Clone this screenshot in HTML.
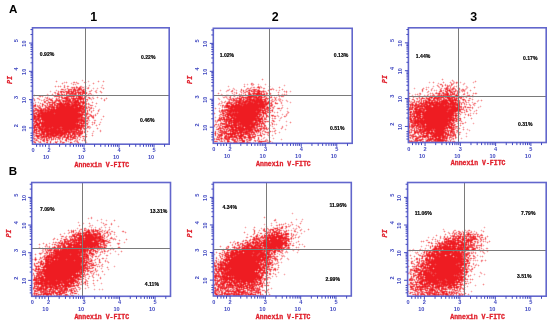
<!DOCTYPE html><html><head><meta charset="utf-8"><style>html,body{margin:0;padding:0;background:#fff;overflow:hidden}svg{display:block}</style></head><body><svg width="550" height="324" viewBox="0 0 550 324"><defs><filter id="bl" x="-5%" y="-5%" width="110%" height="110%"><feConvolveMatrix order="3" kernelMatrix="0 1 0 1 4 1 0 1 0" preserveAlpha="false"/></filter></defs><text x="9" y="13" font-family="Liberation Sans, sans-serif" font-weight="bold" font-size="11.6" fill="#000">A</text>
<text x="8.8" y="174.5" font-family="Liberation Sans, sans-serif" font-weight="bold" font-size="11.6" fill="#000">B</text>
<text x="93.6" y="21" text-anchor="middle" font-family="Liberation Sans, sans-serif" font-weight="bold" font-size="12.4" fill="#000">1</text>
<text x="275.2" y="21" text-anchor="middle" font-family="Liberation Sans, sans-serif" font-weight="bold" font-size="12.4" fill="#000">2</text>
<text x="473.8" y="21" text-anchor="middle" font-family="Liberation Sans, sans-serif" font-weight="bold" font-size="12.4" fill="#000">3</text>
<g stroke-width="1" fill="none" filter="url(#bl)"><path d="M82 80.5h1m5 1h1m-25 1h1m8 0h1m10 0h1m-14 1h1m5 0h2m-4 1h1m-12 1h1m24 0h1m12 0h1m-39 1h1m3 0h1m7 0h1m3 0h2m-11 1h3m8 0h2m1 0h1m2 0h1m12 0h1m-30 1h1m3 0h1m3 0h2m5 0h2m4 0h1m3 0h1m-35 1h1m5 0h1m7 0h1m6 0h1m-29 1h1m7 0h1m4 0h1m1 0h1m2 0h1m1 0h1m1 0h2m1 0h1m14 0h1m-47 1h1m12 0h1m3 0h1m1 0h1m2 0h1m1 0h1m2 0h2m1 0h1m8 0h2m-37 1h2m2 0h1m1 0h1m5 0h1m2 0h1m6 0h1m5 0h1m-28 1h1m2 0h1m2 0h1m5 0h1m1 0h1m3 0h1m2 0h1m12 0h1m-43 1h1m9 0h1m11 0h6m1 0h1m4 0h1m9 0h1m-44 1h1m8 0h1m2 0h1m9 0h1m1 0h2m1 0h1m6 0h1m1 0h1m1 0h1m6 0h1m-55 1h1m15 0h1m1 0h2m7 0h3m8 0h1m3 0h2m1 0h1m1 0h1m-42 1h1m22 0h1m2 0h1m10 0h1m1 0h1m4 0h1m2 0h1m-56 1h2m7 0h2m4 0h1m15 0h2m20 0h1m-57 1h1m13 0h2m7 0h1m7 0h1m2 0h1m3 0h1m5 0h1m3 0h1m3 0h1m4 0h1m12 0h1m-64 1h1m1 0h1m6 0h1m5 0h1m3 0h1m3 0h2m8 0h1m12 0h1m-43 1h1m2 0h1m5 0h3m2 0h1m2 0h1m4 0h1m3 0h3m8 0h1m1 0h1m-50 1h1m2 0h1m6 0h1m5 0h2m6 0h1m6 0h1m2 0h1m2 0h1m7 0h1m4 0h1m-44 1h1m3 0h1m2 0h1m3 0h1m9 0h1m9 0h1m3 0h1m-31 1h1m1 0h1m21 0h1m8 0h1m1 0h1m5 0h2m-53 1h1m6 0h1m4 0h3m3 0h1m2 0h1m6 0h1m4 0h1m20 0h2m-60 1h2m2 0h2m1 0h1m4 0h2m4 0h1m2 0h1m3 0h1m27 0h1m1 0h1m6 0h1m-58 1h1m1 0h1m4 0h1m2 0h3m4 0h1m18 0h1m7 0h1m2 0h1m2 0h1m-55 1h1m5 0h1m2 0h2m7 0h1m31 0h1m2 0h1m3 0h1m1 0h1m-59 1h2m1 0h1m3 0h1m1 0h1m1 0h2m33 0h1m2 0h1m14 0h1m-66 1h1m1 0h1m7 0h1m4 0h1m32 0h2m-47 1h1m1 0h1m3 0h2m1 0h1m35 0h1m15 0h1m-64 1h1m1 0h3m38 0h2m7 0h1m3 0h1m-38 1h1m26 0h1m1 0h1m1 0h1m1 0h2m-55 1h1m5 0h1m48 0h2m4 0h1m-11 1h2m6 0h1m-12 1h1m5 0h1m3 0h2m-58 1h2m2 0h1m39 0h1m3 0h2m2 0h1m-53 1h1m41 0h3m1 0h2m1 0h3m5 0h1m-59 1h1m3 0h1m43 0h3m2 0h1m12 0h1m-65 1h1m48 0h1m2 0h1m4 0h2m-58 1h2m3 0h1m35 0h2m5 0h2m-54 1h1m44 0h1m4 0h1m3 0h1m11 0h1m-25 1h1m8 0h1m8 0h1m-13 1h2m1 0h1m0 1h1m-54 1h1m4 0h1m41 0h1m2 0h1m3 0h3m-53 1h1m3 0h1m2 0h1m7 0h1m7 0h2m20 0h2m4 0h1m1 0h1m-48 1h1m5 0h1m25 0h1m13 0h1m-33 1h1m3 0h1m16 0h1m-46 1h1m5 0h1m3 0h1m25 0h1m2 0h4m3 0h1m2 0h1m17 0h1m-68 1h1m3 0h1m25 0h1m6 0h1m9 0h1m12 0h1m6 0h1m-66 1h1m3 0h1m5 0h1m3 0h1m22 0h1m2 0h1m3 0h1m1 0h1m3 0h1m-53 1h1m1 0h1m3 0h3m28 0h1m4 0h2m1 0h1m13 0h1m-60 1h2m1 0h1m2 0h1m5 0h1m8 0h1m4 0h1m5 0h1m1 0h1m1 0h1m5 0h2m1 0h1m1 0h2m4 0h1m-54 1h1m5 0h1m4 0h2m3 0h1m8 0h1m21 0h1m-32 1h1m1 0h1m4 0h1m1 0h2m5 0h1m3 0h1m5 0h1m2 0h1m5 0h1m-52 1h1m4 0h1m2 0h1m2 0h2m7 0h2m4 0h2m1 0h2m1 0h1m8 0h2m-42 1h2m1 0h1m1 0h1m1 0h2m4 0h3m9 0h2m7 0h1m1 0h1m1 0h1m4 0h1m-37 1h1m5 0h1m1 0h1m2 0h1m4 0h1m7 0h1m3 0h2m5 0h1m7 0h1m-50 1h1m1 0h1m6 0h1m3 0h1m2 0h1m8 0h1m9 0h1m6 0h1m6 0h1m-51 1h1m5 0h1m2 0h1m3 0h1m7 0h1m4 0h2m4 0h1m1 0h1m7 0h2m-39 1h1m22 0h1m1 0h1m12 0h2m7 0h1m-52 1h1m5 0h1m2 0h1m2 0h1m15 0h1m8 0h1m2 0h1m4 0h1" stroke="#f2555b"/><path d="M56 81.5h1m41 0h1m4 0h1m-38 1h1m7 0h1m1 0h1m8 0h1m-24 1h1m30 0h1m-21 1h1m-19 2h1m2 0h1m1 0h1m6 0h1m17 0h1m-22 1h1m9 0h1m1 0h2m1 0h2m-14 1h1m6 0h1m3 0h2m5 0h1m17 0h1m-43 1h2m2 0h1m2 0h1m1 0h2m1 0h3m2 0h4m1 0h1m-16 1h1m4 0h1m1 0h1m1 0h1m4 0h2m1 0h1m5 0h1m-34 1h1m1 0h3m2 0h2m1 0h1m1 0h2m1 0h1m1 0h1m6 0h3m10 0h1m4 0h1m-40 1h1m1 0h2m2 0h2m2 0h3m1 0h1m1 0h5m1 0h2m1 0h1m9 0h1m4 0h1m-45 1h1m8 0h1m1 0h1m1 0h3m1 0h2m2 0h3m1 0h5m3 0h1m-39 1h1m5 0h2m1 0h2m1 0h1m1 0h1m8 0h1m2 0h1m1 0h1m1 0h1m5 0h1m-55 1h1m20 0h1m2 0h1m3 0h3m1 0h4m4 0h1m3 0h3m-41 1h1m1 0h1m11 0h1m1 0h1m2 0h1m1 0h1m7 0h6m1 0h1m1 0h3m-34 1h1m11 0h1m1 0h2m1 0h4m5 0h1m2 0h1m1 0h4m3 0h1m2 0h1m8 0h1m-65 1h1m15 0h1m6 0h1m1 0h1m3 0h6m3 0h14m4 0h1m3 0h1m7 0h1m4 0h1m-68 1h1m4 0h1m5 0h2m4 0h1m2 0h1m1 0h1m4 0h2m1 0h2m2 0h3m1 0h1m1 0h3m1 0h1m1 0h1m1 0h1m-54 1h1m11 0h2m3 0h2m2 0h1m1 0h3m2 0h2m2 0h5m1 0h2m1 0h4m1 0h1m2 0h1m20 0h1m-61 1h1m7 0h1m5 0h1m1 0h1m2 0h4m1 0h3m3 0h5m1 0h2m1 0h1m2 0h1m-43 1h1m3 0h3m2 0h3m4 0h2m1 0h1m1 0h1m1 0h2m1 0h2m1 0h7m1 0h4m7 0h1m-60 1h1m6 0h1m6 0h1m4 0h1m1 0h1m1 0h7m1 0h6m1 0h2m1 0h3m1 0h3m1 0h3m1 0h1m1 0h1m7 0h1m-62 1h1m6 0h2m6 0h3m1 0h2m1 0h14m1 0h8m3 0h1m2 0h1m-54 1h3m3 0h1m2 0h1m2 0h1m1 0h1m4 0h1m1 0h1m1 0h2m1 0h6m1 0h4m1 0h12m1 0h2m4 0h1m-56 1h1m6 0h1m5 0h3m1 0h2m2 0h2m1 0h19m1 0h6m-52 1h1m5 0h1m6 0h2m3 0h4m1 0h18m1 0h7m1 0h2m1 0h1m2 0h1m1 0h1m-57 1h2m2 0h1m1 0h1m3 0h1m1 0h3m1 0h1m1 0h2m1 0h28m2 0h1m3 0h1m-58 1h1m3 0h1m2 0h2m1 0h1m1 0h1m2 0h33m1 0h2m1 0h1m3 0h1m-57 1h1m1 0h1m1 0h7m1 0h4m1 0h32m2 0h2m1 0h1m1 0h1m3 0h1m4 0h1m-66 1h2m3 0h1m1 0h3m2 0h1m1 0h35m1 0h2m2 0h1m3 0h1m-59 1h1m2 0h1m3 0h38m3 0h5m-53 1h4m1 0h16m1 0h26m1 0h1m3 0h1m10 0h1m-65 1h1m2 0h4m1 0h44m1 0h2m-55 1h3m1 0h46m1 0h1m5 0h2m3 0h1m-63 1h49m4 0h1m2 0h1m1 0h1m11 0h1m-71 1h3m2 0h2m1 0h39m1 0h3m3 0h1m4 0h2m-61 1h3m1 0h3m1 0h37m3 0h1m2 0h1m3 0h1m-56 1h2m1 0h3m1 0h43m-50 1h1m1 0h2m1 0h3m1 0h43m2 0h1m-55 1h4m3 0h1m1 0h1m1 0h35m2 0h5m-51 1h3m1 0h40m1 0h2m1 0h1m1 0h1m6 0h1m1 0h1m-62 1h2m1 0h40m1 0h1m1 0h6m1 0h2m-55 1h1m1 0h5m1 0h39m1 0h1m5 0h1m4 0h1m6 0h1m-67 1h7m1 0h44m11 0h1m-63 1h2m1 0h1m1 0h41m1 0h2m1 0h1m-52 1h4m1 0h3m1 0h2m1 0h7m1 0h7m2 0h20m5 0h1m-55 1h2m1 0h1m1 0h5m1 0h5m1 0h25m1 0h6m1 0h2m1 0h1m10 0h1m-64 1h4m1 0h18m1 0h3m1 0h16m2 0h2m2 0h1m-51 1h3m1 0h1m1 0h3m1 0h25m1 0h2m4 0h3m1 0h1m4 0h1m-52 1h1m1 0h1m1 0h2m1 0h22m1 0h6m1 0h6m1 0h2m1 0h2m1 0h1m2 0h1m-55 1h2m1 0h1m4 0h4m1 0h3m1 0h22m1 0h2m1 0h3m1 0h1m1 0h1m1 0h1m-49 1h3m3 0h3m1 0h21m1 0h2m2 0h3m2 0h1m1 0h4m-43 1h5m1 0h8m1 0h4m1 0h5m1 0h1m1 0h1m1 0h1m1 0h3m2 0h1m1 0h1m-45 1h4m1 0h2m1 0h1m2 0h3m1 0h8m1 0h4m1 0h2m1 0h2m1 0h3m1 0h2m2 0h2m12 0h1m-59 1h1m1 0h4m1 0h8m1 0h1m1 0h4m4 0h2m1 0h2m2 0h2m1 0h2m1 0h2m1 0h1m2 0h1m2 0h2m1 0h2m-50 1h1m2 0h1m1 0h2m2 0h1m1 0h4m4 0h3m5 0h1m1 0h3m1 0h4m3 0h1m2 0h1m4 0h1m-53 1h1m4 0h1m5 0h1m1 0h1m4 0h1m1 0h1m1 0h1m2 0h1m3 0h1m3 0h2m5 0h3m7 0h1m-50 1h1m1 0h1m3 0h1m2 0h2m1 0h1m4 0h1m1 0h1m1 0h1m3 0h1m2 0h1m3 0h1m1 0h1m2 0h2m6 0h1m-44 1h1m5 0h2m2 0h2m17 0h2m8 0h1m6 0h1m2 0h1m-53 1h1m4 0h1m5 0h1m5 0h1m6 0h1m16 0h1m10 0h1m-52 1h2m4 0h1m5 0h2m2 0h1m4 0h2m3 0h1m2 0h1m6 0h2m-22 1h1m2 0h1m2 0h1m5 0h1m7 0h1m7 0h1" stroke="#ee1c24"/></g>
<path d="M85.5 27.8V144.2M32.5 95.5H169.2" stroke="#7a7a7a" stroke-width="1" fill="none"/>
<rect x="32.5" y="27.8" width="136.7" height="116.4" fill="none" stroke="#6266cc" stroke-width="1.6"/>
<path d="M49.04 144.2v3.5M32.5 127.9h-3.5M59.58 144.2v2.6M32.5 119.39h-2M65.74 144.2v2.6M32.5 114.41h-2M70.11 144.2v2.6M32.5 110.87h-2M73.5 144.2v2.6M32.5 108.13h-2M76.27 144.2v2.6M32.5 105.89h-2M78.62 144.2v2.6M32.5 104h-2M80.64 144.2v2.6M32.5 102.36h-2M82.43 144.2v2.6M32.5 100.91h-2M84.04 144.2v3.5M32.5 99.62h-3.5M94.57 144.2v2.6M32.5 91.1h-2M100.73 144.2v2.6M32.5 86.12h-2M105.11 144.2v2.6M32.5 82.59h-2M108.5 144.2v2.6M32.5 79.85h-2M111.27 144.2v2.6M32.5 77.61h-2M113.61 144.2v2.6M32.5 75.72h-2M115.64 144.2v2.6M32.5 74.07h-2M117.43 144.2v2.6M32.5 72.63h-2M119.03 144.2v3.5M32.5 71.33h-3.5M129.57 144.2v2.6M32.5 62.82h-2M135.73 144.2v2.6M32.5 57.84h-2M140.1 144.2v2.6M32.5 54.3h-2M143.49 144.2v2.6M32.5 51.56h-2M146.26 144.2v2.6M32.5 49.32h-2M148.61 144.2v2.6M32.5 47.43h-2M150.63 144.2v2.6M32.5 45.79h-2M152.43 144.2v2.6M32.5 44.34h-2M154.03 144.2v3.5M32.5 43.05h-3.5M164.56 144.2v2.6M32.5 34.53h-2M32.5 29.55h-2M36.6 144.2v2.6M32.5 140.71h-2M40.02 144.2v2.6M32.5 137.8h-2M42.75 144.2v2.6M32.5 135.47h-2M45.49 144.2v2.6M32.5 133.14h-2" stroke="#4048c0" stroke-width="1" fill="none"/>
<g fill="#4048c0" font-family="Liberation Sans, sans-serif" font-weight="bold" font-size="5.6"><text x="33" y="152.2" text-anchor="middle">0</text><text x="49.04" y="152.2" text-anchor="middle">2</text><text x="46.04" y="159.2" text-anchor="middle">10</text><text x="84.04" y="152.2" text-anchor="middle">3</text><text x="81.04" y="159.2" text-anchor="middle">10</text><text x="119.03" y="152.2" text-anchor="middle">4</text><text x="116.03" y="159.2" text-anchor="middle">10</text><text x="154.03" y="152.2" text-anchor="middle">5</text><text x="151.03" y="159.2" text-anchor="middle">10</text><text transform="translate(26.3,128.4) rotate(-90)" text-anchor="middle">10</text><text transform="translate(18.4,125.6) rotate(-90)" text-anchor="middle">2</text><text transform="translate(26.3,100.12) rotate(-90)" text-anchor="middle">10</text><text transform="translate(18.4,97.32) rotate(-90)" text-anchor="middle">3</text><text transform="translate(26.3,71.83) rotate(-90)" text-anchor="middle">10</text><text transform="translate(18.4,69.03) rotate(-90)" text-anchor="middle">4</text><text transform="translate(26.3,43.55) rotate(-90)" text-anchor="middle">10</text><text transform="translate(18.4,40.75) rotate(-90)" text-anchor="middle">5</text></g>
<text x="74.6" y="166.8" fill="#e0202c" stroke="#e0202c" stroke-width="0.3" font-family="Liberation Mono, monospace" font-weight="bold" font-size="6.5">Annexin V-FITC</text>
<text transform="translate(11.5,79.95) rotate(-90)" text-anchor="middle" fill="#e0202c" stroke="#e0202c" stroke-width="0.2" font-family="Liberation Mono, monospace" font-weight="bold" font-style="italic" font-size="6.8">PI</text>
<g fill="#000" stroke="#000" stroke-width="0.15" font-family="Liberation Sans, sans-serif" font-weight="bold" font-size="5.1"><text x="39.8" y="55.8">0.92%</text><text x="141" y="58.5">0.22%</text><text x="140" y="122.2">0.46%</text></g>
<g stroke-width="1" fill="none" filter="url(#bl)"><path d="M251 83.5h2m-9 1h1m2 0h1m10 0h1m6 0h1m-14 1h1m31 0h1m-57 1h1m31 0h1m-10 1h1m1 0h2m-22 1h1m14 0h1m14 0h2m7 0h1m-44 1h1m4 0h1m14 0h1m2 0h2m1 0h1m2 0h1m-39 1h1m6 0h2m7 0h1m8 0h1m4 0h1m2 0h1m1 0h1m7 0h1m12 0h1m2 0h1m-54 1h1m5 0h1m7 0h1m8 0h1m3 0h3m1 0h1m3 0h1m1 0h3m24 0h1m-57 1h1m1 0h1m7 0h1m8 0h1m12 0h1m19 0h1m-55 1h1m10 0h1m4 0h1m1 0h1m15 0h1m-46 1h1m12 0h1m6 0h1m6 0h1m2 0h1m2 0h2m4 0h1m1 0h1m3 0h1m3 0h1m7 0h1m3 0h1m3 0h1m-59 1h1m11 0h2m4 0h1m11 0h1m1 0h1m17 0h1m2 0h1m-57 1h1m21 0h1m17 0h1m3 0h1m1 0h1m9 0h3m-61 1h2m4 0h2m8 0h1m12 0h2m6 0h1m2 0h2m11 0h1m-59 1h1m8 0h1m4 0h1m3 0h2m8 0h1m1 0h1m2 0h1m2 0h2m3 0h1m7 0h3m9 0h1m-61 1h1m8 0h3m15 0h1m8 0h1m6 0h1m15 0h1m-50 1h1m1 0h3m2 0h1m1 0h1m2 0h1m6 0h1m17 0h1m7 0h1m1 0h1m5 0h1m3 0h1m-66 1h1m6 0h2m5 0h1m1 0h1m3 0h2m8 0h1m14 0h1m6 0h1m6 0h1m6 0h1m-66 1h1m5 0h1m1 0h2m2 0h2m5 0h1m5 0h1m5 0h1m10 0h1m1 0h1m2 0h1m11 0h1m8 0h1m-70 1h1m8 0h1m2 0h1m1 0h1m7 0h1m2 0h1m11 0h1m5 0h1m5 0h1m10 0h1m-64 1h1m7 0h1m3 0h1m9 0h1m30 0h2m-53 1h1m21 0h1m22 0h1m4 0h1m1 0h1m9 0h1m-61 1h1m1 0h2m44 0h2m-50 1h1m2 0h1m3 0h1m42 0h2m8 0h1m-64 1h1m13 0h1m25 0h1m1 0h1m3 0h2m1 0h1m4 0h1m3 0h1m9 0h1m-64 1h2m2 0h2m31 0h2m2 0h1m1 0h2m3 0h1m-54 1h1m4 0h1m42 0h1m1 0h3m8 0h1m-59 1h2m1 0h1m30 0h1m10 0h1m19 0h1m-65 1h1m3 0h2m3 0h1m1 0h1m2 0h1m22 0h1m8 0h1m4 0h1m-49 1h1m4 0h1m27 0h2m1 0h1m24 0h1m-23 1h2m2 0h1m12 0h1m3 0h1m-64 1h1m36 0h1m16 0h1m8 0h1m-67 1h1m2 0h1m9 0h1m26 0h1m6 0h3m2 0h1m5 0h1m6 0h1m-71 1h1m6 0h1m3 0h1m8 0h1m20 0h1m2 0h1m2 0h1m1 0h1m16 0h1m-55 1h1m1 0h1m34 0h1m9 0h2m4 0h1m-62 1h2m36 0h1m7 0h2m-52 1h1m1 0h1m4 0h1m2 0h1m2 0h1m33 0h2m9 0h1m5 0h1m-65 1h1m4 0h1m2 0h1m1 0h1m1 0h1m4 0h1m20 0h1m3 0h1m8 0h1m7 0h1m11 0h1m-71 1h1m4 0h1m8 0h1m8 0h1m13 0h1m9 0h1m1 0h1m5 0h1m-47 1h1m11 0h1m18 0h1m1 0h3m3 0h1m-45 1h1m2 0h1m1 0h1m2 0h1m3 0h1m4 0h1m25 0h2m4 0h1m4 0h1m1 0h1m-59 1h1m2 0h1m3 0h1m13 0h1m1 0h1m8 0h1m4 0h1m14 0h1m15 0h1m-73 1h1m2 0h1m15 0h1m7 0h1m14 0h2m3 0h1m2 0h2m6 0h1m9 0h1m-67 1h1m2 0h1m8 0h1m26 0h3m3 0h1m2 0h1m17 0h1m-63 1h1m1 0h1m4 0h3m22 0h2m1 0h3m3 0h2m1 0h1m3 0h2m3 0h2m-59 1h1m6 0h1m13 0h1m15 0h2m11 0h1m18 0h1m-67 1h1m2 0h1m1 0h1m6 0h1m13 0h1m1 0h1m11 0h1m-40 1h2m1 0h1m2 0h2m6 0h1m8 0h2m6 0h1m1 0h1m3 0h1m1 0h1m4 0h2m6 0h1m-52 1h2m1 0h1m11 0h1m11 0h3m7 0h1m6 0h2m12 0h1m-66 1h1m7 0h2m15 0h1m4 0h1m8 0h1m3 0h1m2 0h1m7 0h1m-50 1h1m2 0h1m3 0h1m10 0h1m6 0h1m2 0h2m2 0h2m1 0h1m8 0h1m3 0h1m-49 1h1m15 0h1m2 0h1m8 0h1m2 0h1m4 0h1m2 0h2m12 0h1m-53 1h2m2 0h1m2 0h2m14 0h1m8 0h1m-35 1h1m2 0h1m4 0h2m4 0h2m3 0h1m5 0h1m2 0h2m6 0h1m9 0h1m4 0h1m-56 1h1m1 0h1m1 0h1m8 0h1m4 0h2m3 0h2m6 0h1m2 0h1m1 0h2m11 0h1m9 0h1m-51 1h1m1 0h1m2 0h1m4 0h2m4 0h1m6 0h1m2 0h2m10 0h1m4 0h1m14 0h1m-63 1h1m1 0h1m10 0h1m2 0h1m3 0h1m1 0h1m4 0h1m1 0h1m6 0h1m3 0h1m-43 1h1m2 0h2m2 0h1m10 0h1m2 0h1m19 0h1m6 0h2m-42 1h1m2 0h1m1 0h2m18 0h1m2 0h1m5 0h2m8 0h1m2 0h1" stroke="#f2555b"/><path d="M262 79.5h1m-12 5h1m1 0h1m-10 2h1m13 0h1m10 0h1m-13 1h3m1 0h1m17 0h1m-33 1h1m2 0h1m8 0h1m-19 1h1m4 0h1m7 0h1m1 0h1m13 0h2m1 0h1m8 0h1m-51 1h1m8 0h1m1 0h1m4 0h2m1 0h1m2 0h1m2 0h3m8 0h1m-38 1h1m11 0h1m2 0h2m3 0h2m3 0h1m1 0h3m1 0h1m21 0h1m1 0h1m-46 1h1m3 0h1m2 0h2m4 0h1m2 0h3m1 0h1m1 0h1m14 0h1m-61 1h1m17 0h1m12 0h1m2 0h10m2 0h1m2 0h1m2 0h1m-32 1h1m5 0h1m3 0h2m2 0h1m2 0h4m1 0h1m1 0h2m19 0h1m-63 1h1m3 0h2m5 0h1m9 0h1m1 0h1m2 0h6m2 0h2m1 0h1m1 0h7m-38 1h1m3 0h1m4 0h2m1 0h1m5 0h9m1 0h4m2 0h1m14 0h1m-54 1h1m10 0h1m3 0h11m2 0h6m1 0h2m3 0h1m3 0h2m2 0h1m-45 1h1m2 0h1m1 0h1m2 0h4m1 0h1m1 0h1m1 0h1m1 0h2m2 0h1m2 0h3m1 0h2m3 0h2m8 0h1m-45 1h1m1 0h2m1 0h1m2 0h3m1 0h2m2 0h8m1 0h6m1 0h3m1 0h1m4 0h1m2 0h1m4 0h1m-47 1h2m1 0h1m1 0h2m1 0h2m1 0h3m1 0h14m1 0h2m3 0h1m1 0h1m7 0h1m-55 1h1m7 0h1m2 0h1m1 0h3m2 0h8m1 0h14m2 0h2m2 0h1m-49 1h1m2 0h1m1 0h1m2 0h1m3 0h5m1 0h5m1 0h5m1 0h10m1 0h1m1 0h2m2 0h1m3 0h1m-57 1h1m6 0h4m1 0h1m2 0h1m1 0h1m1 0h5m1 0h2m1 0h11m1 0h5m1 0h5m1 0h1m3 0h3m-51 1h1m3 0h3m1 0h5m1 0h27m1 0h1m-48 1h2m1 0h5m1 0h11m1 0h22m1 0h1m2 0h1m1 0h1m-46 1h40m1 0h1m6 0h1m-51 1h1m1 0h3m1 0h35m1 0h4m-55 1h1m12 0h5m1 0h25m1 0h1m1 0h3m2 0h1m1 0h2m7 0h2m1 0h1m-60 1h1m3 0h2m2 0h31m3 0h1m1 0h1m-46 1h3m1 0h41m2 0h1m3 0h1m-54 1h1m1 0h1m2 0h1m2 0h29m1 0h4m1 0h2m1 0h2m2 0h1m2 0h1m-53 1h1m1 0h1m2 0h2m2 0h3m1 0h1m1 0h2m1 0h22m1 0h5m1 0h2m1 0h1m6 0h1m10 0h1m-75 1h1m7 0h3m2 0h4m1 0h27m4 0h4m-47 1h2m1 0h1m1 0h37m1 0h1m-45 1h1m2 0h1m1 0h2m1 0h31m1 0h1m1 0h1m1 0h1m2 0h2m3 0h3m-49 1h4m1 0h3m1 0h26m2 0h2m2 0h1m7 0h2m8 0h1m-66 1h1m1 0h1m1 0h2m2 0h3m1 0h4m1 0h20m1 0h2m2 0h1m4 0h1m2 0h1m-51 1h3m1 0h2m1 0h1m1 0h1m1 0h33m2 0h1m6 0h1m-55 1h1m2 0h11m1 0h24m1 0h5m1 0h1m-47 1h3m3 0h1m1 0h2m1 0h32m11 0h1m-56 1h1m6 0h1m1 0h1m1 0h4m1 0h20m2 0h2m1 0h5m1 0h2m1 0h2m4 0h1m-49 1h2m1 0h2m1 0h8m1 0h13m1 0h4m1 0h2m1 0h1m27 0h1m-71 1h5m1 0h1m1 0h4m1 0h4m1 0h18m1 0h1m3 0h3m8 0h1m-58 1h2m1 0h1m3 0h1m1 0h1m1 0h2m1 0h1m1 0h1m1 0h4m1 0h22m1 0h1m10 0h1m-59 1h1m5 0h1m5 0h13m1 0h1m1 0h8m1 0h4m1 0h2m1 0h1m1 0h1m2 0h2m-47 1h1m2 0h11m1 0h3m1 0h3m1 0h13m3 0h3m1 0h1m-43 1h1m1 0h1m1 0h4m2 0h14m1 0h10m8 0h1m2 0h1m-49 1h2m1 0h1m1 0h1m1 0h1m5 0h3m1 0h17m2 0h1m4 0h2m2 0h1m1 0h2m14 0h1m-65 1h2m1 0h1m3 0h1m1 0h2m1 0h8m1 0h15m2 0h1m1 0h2m1 0h2m2 0h1m2 0h1m-48 1h2m4 0h1m1 0h3m1 0h13m1 0h1m1 0h5m1 0h5m1 0h1m2 0h1m11 0h1m-61 1h1m2 0h1m3 0h1m1 0h2m2 0h1m1 0h4m1 0h3m1 0h4m2 0h6m1 0h1m2 0h2m1 0h1m3 0h1m6 0h2m3 0h1m-60 1h1m3 0h2m2 0h1m1 0h2m3 0h1m1 0h4m1 0h11m3 0h4m1 0h1m3 0h1m6 0h2m-54 1h1m1 0h1m3 0h1m2 0h15m1 0h2m1 0h1m1 0h5m1 0h1m2 0h1m7 0h1m12 0h1m-61 1h1m2 0h1m1 0h2m2 0h1m2 0h9m2 0h1m1 0h4m1 0h2m2 0h2m2 0h1m1 0h1m4 0h1m3 0h1m-50 1h1m2 0h1m1 0h3m2 0h2m1 0h1m1 0h3m1 0h1m1 0h2m1 0h5m4 0h2m2 0h1m4 0h1m2 0h2m6 0h1m-52 1h1m1 0h1m5 0h2m2 0h8m1 0h5m1 0h2m2 0h3m2 0h3m5 0h1m-45 1h1m1 0h1m4 0h2m2 0h4m2 0h3m2 0h3m2 0h2m2 0h6m4 0h1m-39 1h3m1 0h3m1 0h2m6 0h1m2 0h4m1 0h1m4 0h1m4 0h1m3 0h1m-45 1h1m1 0h4m1 0h1m4 0h2m1 0h1m1 0h2m2 0h1m1 0h1m3 0h2m4 0h1m3 0h1m6 0h1m-35 1h1m2 0h2m4 0h2m2 0h1m2 0h1m1 0h3m4 0h2m3 0h1m2 0h1m7 0h1m1 0h1m-54 1h3m5 0h1m4 0h3m4 0h1m1 0h1m5 0h3m2 0h1m7 0h1m3 0h6m4 0h2m-44 1h1m5 0h5m1 0h6m1 0h4m8 0h1m2 0h1m5 0h2" stroke="#ee1c24"/></g>
<path d="M269.5 28.3V143.3M213.3 95.5H352.2" stroke="#7a7a7a" stroke-width="1" fill="none"/>
<rect x="213.3" y="28.3" width="138.9" height="115" fill="none" stroke="#6266cc" stroke-width="1.6"/>
<path d="M230.11 143.3v3.5M213.3 127.2h-3.5M240.81 143.3v2.6M213.3 118.79h-2M247.07 143.3v2.6M213.3 113.87h-2M251.52 143.3v2.6M213.3 110.38h-2M254.96 143.3v2.6M213.3 107.67h-2M257.78 143.3v2.6M213.3 105.45h-2M260.16 143.3v2.6M213.3 103.58h-2M262.22 143.3v2.6M213.3 101.96h-2M264.04 143.3v2.6M213.3 100.53h-2M265.67 143.3v3.5M213.3 99.25h-3.5M276.37 143.3v2.6M213.3 90.84h-2M282.63 143.3v2.6M213.3 85.92h-2M287.07 143.3v2.6M213.3 82.43h-2M290.52 143.3v2.6M213.3 79.72h-2M293.34 143.3v2.6M213.3 77.51h-2M295.72 143.3v2.6M213.3 75.64h-2M297.78 143.3v2.6M213.3 74.02h-2M299.6 143.3v2.6M213.3 72.59h-2M301.22 143.3v3.5M213.3 71.31h-3.5M311.93 143.3v2.6M213.3 62.9h-2M318.19 143.3v2.6M213.3 57.98h-2M322.63 143.3v2.6M213.3 54.49h-2M326.08 143.3v2.6M213.3 51.78h-2M328.89 143.3v2.6M213.3 49.56h-2M331.27 143.3v2.6M213.3 47.69h-2M333.34 143.3v2.6M213.3 46.07h-2M335.16 143.3v2.6M213.3 44.64h-2M336.78 143.3v3.5M213.3 43.36h-3.5M347.49 143.3v2.6M213.3 34.95h-2M213.3 30.03h-2M217.47 143.3v2.6M213.3 139.85h-2M220.94 143.3v2.6M213.3 136.98h-2M223.72 143.3v2.6M213.3 134.68h-2M226.5 143.3v2.6M213.3 132.38h-2" stroke="#4048c0" stroke-width="1" fill="none"/>
<g fill="#4048c0" font-family="Liberation Sans, sans-serif" font-weight="bold" font-size="5.6"><text x="213.8" y="151.3" text-anchor="middle">0</text><text x="230.11" y="151.3" text-anchor="middle">2</text><text x="227.11" y="158.3" text-anchor="middle">10</text><text x="265.67" y="151.3" text-anchor="middle">3</text><text x="262.67" y="158.3" text-anchor="middle">10</text><text x="301.22" y="151.3" text-anchor="middle">4</text><text x="298.22" y="158.3" text-anchor="middle">10</text><text x="336.78" y="151.3" text-anchor="middle">5</text><text x="333.78" y="158.3" text-anchor="middle">10</text><text transform="translate(207.1,127.7) rotate(-90)" text-anchor="middle">10</text><text transform="translate(199.2,124.9) rotate(-90)" text-anchor="middle">2</text><text transform="translate(207.1,99.75) rotate(-90)" text-anchor="middle">10</text><text transform="translate(199.2,96.95) rotate(-90)" text-anchor="middle">3</text><text transform="translate(207.1,71.81) rotate(-90)" text-anchor="middle">10</text><text transform="translate(199.2,69.01) rotate(-90)" text-anchor="middle">4</text><text transform="translate(207.1,43.86) rotate(-90)" text-anchor="middle">10</text><text transform="translate(199.2,41.06) rotate(-90)" text-anchor="middle">5</text></g>
<text x="256.08" y="165.9" fill="#e0202c" stroke="#e0202c" stroke-width="0.3" font-family="Liberation Mono, monospace" font-weight="bold" font-size="6.5">Annexin V-FITC</text>
<text transform="translate(192.3,79.82) rotate(-90)" text-anchor="middle" fill="#e0202c" stroke="#e0202c" stroke-width="0.2" font-family="Liberation Mono, monospace" font-weight="bold" font-style="italic" font-size="6.8">PI</text>
<g fill="#000" stroke="#000" stroke-width="0.15" font-family="Liberation Sans, sans-serif" font-weight="bold" font-size="5.1"><text x="219.7" y="56.8">1.02%</text><text x="333.8" y="57.2">0.13%</text><text x="330" y="130.3">0.51%</text></g>
<g stroke-width="1" fill="none" filter="url(#bl)"><path d="M453 81.5h1m-25 1h1m24 0h1m2 0h1m2 0h1m12 0h1m-36 1h1m12 0h1m4 0h1m7 0h1m-20 1h1m5 0h1m11 0h1m-6 1h1m-26 1h1m13 0h1m2 0h1m3 0h1m11 0h1m-41 1h1m1 0h1m10 0h1m6 0h1m3 0h1m7 0h1m8 0h1m-54 1h1m17 0h1m11 0h2m1 0h2m1 0h1m2 0h1m5 0h1m6 0h1m-36 1h1m13 0h1m6 0h2m9 0h1m1 0h1m-35 1h1m2 0h1m1 0h1m3 0h1m4 0h1m6 0h1m2 0h2m7 0h1m-43 1h1m16 0h1m7 0h1m2 0h1m3 0h1m4 0h1m4 0h1m-38 1h1m8 0h1m2 0h1m2 0h1m11 0h1m2 0h1m1 0h1m7 0h1m-49 1h2m14 0h1m1 0h1m2 0h1m1 0h1m1 0h3m3 0h1m2 0h1m4 0h1m5 0h1m2 0h1m8 0h1m-62 1h1m4 0h1m7 0h1m9 0h1m2 0h1m1 0h2m6 0h1m12 0h1m-53 1h1m6 0h1m4 0h1m5 0h1m1 0h3m3 0h3m1 0h1m1 0h2m2 0h1m1 0h2m15 0h2m3 0h1m-64 1h1m5 0h1m11 0h2m1 0h1m7 0h1m13 0h1m6 0h1m2 0h1m2 0h2m6 0h1m-38 1h1m3 0h1m9 0h2m4 0h1m3 0h1m2 0h1m2 0h1m-51 1h2m1 0h1m19 0h3m1 0h1m11 0h1m5 0h1m8 0h1m-54 1h1m2 0h2m3 0h1m1 0h1m8 0h1m1 0h2m1 0h1m2 0h1m6 0h1m1 0h1m-45 1h1m14 0h2m5 0h1m2 0h1m3 0h1m2 0h1m27 0h1m8 0h1m-68 1h1m4 0h4m8 0h1m6 0h1m41 0h1m-68 1h1m1 0h1m1 0h1m1 0h1m4 0h1m2 0h1m15 0h1m18 0h2m1 0h1m5 0h1m3 0h1m-62 1h1m4 0h1m7 0h1m2 0h1m6 0h1m21 0h1m18 0h1m-65 1h1m5 0h1m1 0h1m3 0h1m23 0h1m16 0h1m-54 1h1m1 0h1m3 0h1m1 0h1m2 0h1m2 0h1m5 0h1m6 0h1m5 0h1m4 0h1m1 0h1m3 0h1m18 0h1m-60 1h2m14 0h1m28 0h1m3 0h1m15 0h1m-71 1h2m7 0h3m37 0h3m7 0h1m8 0h1m-69 1h2m5 0h1m6 0h1m24 0h2m10 0h1m1 0h1m8 0h1m-52 1h2m25 0h1m12 0h1m1 0h1m5 0h1m-53 1h1m4 0h1m37 0h1m5 0h1m-43 1h1m22 0h1m9 0h1m9 0h1m6 0h1m-61 1h1m39 0h1m7 0h1m-50 1h1m40 0h2m1 0h1m12 0h1m2 0h1m-63 1h1m1 0h1m42 0h1m-46 1h1m10 0h1m35 0h1m-50 1h1m1 0h1m6 0h1m3 0h1m29 0h2m5 0h1m-51 1h1m-1 1h1m38 0h1m3 0h1m5 0h1m-45 1h1m1 0h1m2 0h1m3 0h1m30 0h1m-42 1h1m41 0h1m2 0h1m1 0h1m-51 1h1m1 0h2m41 0h1m1 0h1m-45 1h1m34 0h1m4 0h1m-42 1h1m6 0h1m30 0h1m6 0h1m5 0h1m9 0h1m-65 1h1m2 0h3m5 0h1m28 0h1m5 0h1m-43 1h1m5 0h1m1 0h1m3 0h1m-16 1h2m6 0h1m2 0h1m34 0h1m-45 1h1m2 0h1m5 0h1m3 0h1m19 0h1m7 0h1m2 0h1m6 0h1m-55 1h1m6 0h1m1 0h1m4 0h1m28 0h1m4 0h1m-48 1h1m5 0h1m6 0h1m8 0h1m1 0h1m10 0h1m21 0h1m-57 1h3m8 0h1m10 0h1m10 0h1m2 0h2m1 0h1m1 0h2m2 0h2m11 0h1m-61 1h1m1 0h1m4 0h3m2 0h1m4 0h1m18 0h1m7 0h2m-45 1h1m8 0h2m3 0h1m9 0h1m17 0h3m1 0h1m2 0h2m-52 1h1m7 0h2m25 0h1m2 0h1m5 0h1m12 0h1m-57 1h1m1 0h1m1 0h1m7 0h1m5 0h1m3 0h1m16 0h3m2 0h1m-45 1h1m1 0h2m1 0h1m3 0h2m1 0h1m5 0h1m2 0h1m12 0h1m5 0h1m1 0h1m1 0h1m-44 1h2m5 0h2m8 0h2m11 0h1m4 0h1m6 0h1m12 0h1m-58 1h1m2 0h2m2 0h1m1 0h1m3 0h2m9 0h1m7 0h1m3 0h1m1 0h1m2 0h1m4 0h2m-47 1h1m15 0h1m2 0h1m14 0h1m2 0h1m1 0h1m2 0h1m2 0h1m5 0h1m-45 1h1m2 0h1m2 0h1m1 0h1m7 0h1m9 0h1m5 0h1m3 0h1m-43 1h1m2 0h1m1 0h1m11 0h1m2 0h1m1 0h1m2 0h1m9 0h2m-35 1h3m9 0h1m2 0h1m4 0h2m17 0h2" stroke="#f2555b"/><path d="M442 79.5h1m9 1h1m22 1h1m-43 1h1m9 0h1m6 0h1m5 0h1m-4 1h1m-14 1h2m10 0h1m-16 1h1m4 0h1m2 0h1m1 0h1m1 0h1m1 0h1m-14 1h1m3 0h1m5 0h1m7 0h1m-10 1h1m5 0h1m20 0h1m-52 1h1m17 0h1m4 0h1m5 0h1m1 0h1m3 0h1m-37 1h1m3 0h1m13 0h1m5 0h2m1 0h1m1 0h1m3 0h1m3 0h1m2 0h1m-41 1h1m18 0h1m1 0h1m3 0h4m7 0h1m2 0h1m1 0h1m6 0h1m-43 1h1m11 0h2m3 0h2m2 0h1m1 0h1m1 0h1m1 0h1m1 0h1m4 0h1m-20 1h1m2 0h2m2 0h3m-44 1h1m20 0h1m1 0h1m3 0h1m1 0h2m3 0h1m3 0h2m3 0h1m1 0h1m2 0h1m15 0h1m1 0h1m-59 1h1m15 0h1m5 0h1m5 0h4m1 0h1m1 0h3m1 0h1m1 0h1m4 0h1m-37 1h1m9 0h1m3 0h1m1 0h1m2 0h2m1 0h1m5 0h4m10 0h1m-52 1h1m6 0h1m5 0h2m1 0h3m2 0h7m1 0h3m1 0h1m1 0h6m2 0h1m10 0h1m-60 1h1m5 0h1m2 0h1m3 0h1m2 0h4m1 0h2m1 0h3m1 0h3m1 0h5m2 0h3m3 0h2m1 0h1m-53 1h1m11 0h4m1 0h4m1 0h1m1 0h6m5 0h1m2 0h6m1 0h1m1 0h2m2 0h1m8 0h1m-58 1h2m14 0h3m2 0h2m2 0h1m2 0h1m2 0h1m1 0h2m1 0h3m1 0h1m1 0h3m5 0h3m7 0h1m-59 1h1m4 0h1m1 0h1m1 0h1m2 0h1m1 0h3m1 0h2m1 0h1m1 0h1m1 0h1m2 0h16m1 0h1m3 0h1m1 0h1m2 0h1m12 0h1m-73 1h1m4 0h1m6 0h1m1 0h1m1 0h3m1 0h1m1 0h2m1 0h1m1 0h2m1 0h9m1 0h5m1 0h1m1 0h1m1 0h1m5 0h1m-53 1h1m4 0h1m1 0h1m2 0h1m1 0h15m1 0h8m1 0h7m1 0h1m4 0h1m2 0h1m-55 1h1m2 0h1m3 0h5m1 0h2m1 0h6m1 0h21m1 0h3m1 0h1m2 0h1m9 0h1m-66 1h2m1 0h2m1 0h2m1 0h1m2 0h2m1 0h4m1 0h18m1 0h12m1 0h1m4 0h1m2 0h1m3 0h1m-64 1h1m1 0h1m1 0h3m1 0h1m1 0h2m1 0h2m1 0h5m1 0h6m1 0h5m1 0h4m1 0h1m1 0h3m1 0h4m10 0h1m-61 1h1m1 0h1m1 0h1m2 0h14m2 0h23m1 0h3m1 0h1m3 0h1m-57 1h1m2 0h2m1 0h4m3 0h1m1 0h35m4 0h1m1 0h1m1 0h2m1 0h1m1 0h1m-64 1h1m2 0h1m1 0h3m2 0h5m1 0h24m2 0h9m-51 1h4m1 0h7m2 0h25m1 0h12m1 0h1m3 0h1m-58 1h1m3 0h1m1 0h2m1 0h4m1 0h2m1 0h34m4 0h1m5 0h1m5 0h1m-67 1h2m1 0h11m1 0h22m1 0h9m2 0h2m5 0h1m-58 1h3m1 0h1m1 0h39m1 0h1m2 0h1m2 0h1m2 0h1m-55 1h1m1 0h1m1 0h7m1 0h32m2 0h1m1 0h2m16 0h1m-68 1h2m1 0h1m1 0h1m1 0h38m1 0h1m4 0h1m4 0h1m2 0h1m-59 1h1m2 0h2m1 0h5m2 0h35m10 0h1m1 0h1m-61 1h1m1 0h6m1 0h3m1 0h29m3 0h2m-47 1h1m1 0h1m1 0h7m1 0h32m1 0h1m1 0h1m6 0h1m-55 1h2m1 0h3m1 0h31m1 0h3m1 0h4m2 0h2m10 0h1m-63 1h3m1 0h1m1 0h1m1 0h2m1 0h3m1 0h30m2 0h2m2 0h1m-51 1h3m1 0h41m1 0h1m2 0h1m-51 1h1m1 0h1m2 0h37m1 0h2m2 0h1m4 0h1m-52 1h3m1 0h34m1 0h3m2 0h1m10 0h1m-57 1h1m3 0h6m1 0h30m1 0h3m6 0h1m1 0h1m-52 1h1m3 0h1m1 0h3m1 0h4m1 0h23m1 0h3m1 0h1m-46 1h1m1 0h2m1 0h5m1 0h1m1 0h3m1 0h24m1 0h4m5 0h1m-52 1h1m2 0h3m1 0h2m1 0h2m1 0h25m1 0h4m1 0h1m1 0h1m1 0h1m-49 1h1m1 0h1m1 0h1m2 0h1m1 0h3m1 0h3m1 0h19m1 0h7m1 0h1m-43 1h1m1 0h1m2 0h1m2 0h1m1 0h1m1 0h24m1 0h3m1 0h1m1 0h1m3 0h1m-49 1h1m2 0h1m3 0h5m1 0h8m1 0h1m1 0h10m2 0h1m3 0h4m8 0h1m-55 1h1m4 0h1m1 0h2m1 0h3m1 0h10m1 0h10m1 0h2m2 0h1m1 0h1m-38 1h2m3 0h2m1 0h4m1 0h3m1 0h2m1 0h11m2 0h2m1 0h3m4 0h1m-49 1h1m1 0h1m2 0h5m2 0h3m2 0h8m1 0h12m1 0h1m1 0h2m6 0h1m-45 1h2m4 0h2m1 0h21m1 0h2m1 0h1m1 0h1m1 0h1m1 0h1m3 0h1m-46 1h1m4 0h1m2 0h1m1 0h1m2 0h2m2 0h2m1 0h11m1 0h4m4 0h1m1 0h1m3 0h1m-51 1h1m1 0h1m11 0h5m4 0h12m1 0h1m1 0h3m1 0h1m1 0h1m1 0h1m-43 1h4m3 0h8m2 0h11m1 0h4m1 0h1m2 0h1m1 0h1m2 0h1m-46 1h1m6 0h1m1 0h2m3 0h2m1 0h2m1 0h1m1 0h1m1 0h3m1 0h3m1 0h3m1 0h1m2 0h1m1 0h1m-40 1h1m2 0h4m3 0h1m5 0h1m1 0h4m1 0h6m1 0h2m1 0h2m6 0h1m-41 1h1m1 0h2m2 0h1m1 0h2m4 0h6m1 0h9m1 0h1m1 0h1m4 0h1m-43 1h1m5 0h1m1 0h5m4 0h2m1 0h2m3 0h2m1 0h9m4 0h1m-42 1h4m3 0h2m2 0h1m1 0h2m2 0h2m1 0h1m1 0h2m2 0h9m1 0h2m1 0h1m1 0h1m3 0h1" stroke="#ee1c24"/></g>
<path d="M458.5 27.8V142.5M408.4 96.5H546.2" stroke="#7a7a7a" stroke-width="1" fill="none"/>
<rect x="408.4" y="27.8" width="137.8" height="114.7" fill="none" stroke="#6266cc" stroke-width="1.6"/>
<path d="M425.07 142.5v3.5M408.4 126.44h-3.5M435.69 142.5v2.6M408.4 118.05h-2M441.91 142.5v2.6M408.4 113.14h-2M446.31 142.5v2.6M408.4 109.66h-2M449.73 142.5v2.6M408.4 106.96h-2M452.52 142.5v2.6M408.4 104.75h-2M454.89 142.5v2.6M408.4 102.89h-2M456.93 142.5v2.6M408.4 101.27h-2M458.74 142.5v2.6M408.4 99.85h-2M460.35 142.5v3.5M408.4 98.57h-3.5M470.97 142.5v2.6M408.4 90.18h-2M477.18 142.5v2.6M408.4 85.27h-2M481.59 142.5v2.6M408.4 81.79h-2M485.01 142.5v2.6M408.4 79.09h-2M487.8 142.5v2.6M408.4 76.88h-2M490.16 142.5v2.6M408.4 75.02h-2M492.21 142.5v2.6M408.4 73.4h-2M494.01 142.5v2.6M408.4 71.97h-2M495.63 142.5v3.5M408.4 70.7h-3.5M506.25 142.5v2.6M408.4 62.31h-2M512.46 142.5v2.6M408.4 57.4h-2M516.87 142.5v2.6M408.4 53.92h-2M520.28 142.5v2.6M408.4 51.22h-2M523.08 142.5v2.6M408.4 49.01h-2M525.44 142.5v2.6M408.4 47.14h-2M527.49 142.5v2.6M408.4 45.53h-2M529.29 142.5v2.6M408.4 44.1h-2M530.9 142.5v3.5M408.4 42.83h-3.5M541.52 142.5v2.6M408.4 34.44h-2M408.4 29.53h-2M412.53 142.5v2.6M408.4 139.06h-2M415.98 142.5v2.6M408.4 136.19h-2M418.73 142.5v2.6M408.4 133.9h-2M421.49 142.5v2.6M408.4 131.6h-2" stroke="#4048c0" stroke-width="1" fill="none"/>
<g fill="#4048c0" font-family="Liberation Sans, sans-serif" font-weight="bold" font-size="5.6"><text x="408.9" y="150.5" text-anchor="middle">0</text><text x="425.07" y="150.5" text-anchor="middle">2</text><text x="422.07" y="157.5" text-anchor="middle">10</text><text x="460.35" y="150.5" text-anchor="middle">3</text><text x="457.35" y="157.5" text-anchor="middle">10</text><text x="495.63" y="150.5" text-anchor="middle">4</text><text x="492.63" y="157.5" text-anchor="middle">10</text><text x="530.9" y="150.5" text-anchor="middle">5</text><text x="527.9" y="157.5" text-anchor="middle">10</text><text transform="translate(402.2,126.94) rotate(-90)" text-anchor="middle">10</text><text transform="translate(394.3,124.14) rotate(-90)" text-anchor="middle">2</text><text transform="translate(402.2,99.07) rotate(-90)" text-anchor="middle">10</text><text transform="translate(394.3,96.27) rotate(-90)" text-anchor="middle">3</text><text transform="translate(402.2,71.2) rotate(-90)" text-anchor="middle">10</text><text transform="translate(394.3,68.4) rotate(-90)" text-anchor="middle">4</text><text transform="translate(402.2,43.33) rotate(-90)" text-anchor="middle">10</text><text transform="translate(394.3,40.53) rotate(-90)" text-anchor="middle">5</text></g>
<text x="450.84" y="165.1" fill="#e0202c" stroke="#e0202c" stroke-width="0.3" font-family="Liberation Mono, monospace" font-weight="bold" font-size="6.5">Annexin V-FITC</text>
<text transform="translate(387.4,79.19) rotate(-90)" text-anchor="middle" fill="#e0202c" stroke="#e0202c" stroke-width="0.2" font-family="Liberation Mono, monospace" font-weight="bold" font-style="italic" font-size="6.8">PI</text>
<g fill="#000" stroke="#000" stroke-width="0.15" font-family="Liberation Sans, sans-serif" font-weight="bold" font-size="5.1"><text x="415.8" y="57.8">1.44%</text><text x="523" y="60.2">0.17%</text><text x="518" y="125.5">0.31%</text></g>
<g stroke-width="1" fill="none" filter="url(#bl)"><path d="M91 217.5h1m-4 1h1m2 0h1m9 1h1m-5 1h1m8 0h1m-29 2h1m22 0h1m-19 1h1m27 0h1m-7 1h2m-17 1h1m1 0h1m11 0h1m-16 1h1m28 0h1m-28 1h1m3 0h1m5 0h1m3 0h1m3 0h1m-33 1h1m6 0h1m14 0h1m-20 1h1m3 0h1m1 0h1m12 0h2m-22 1h1m7 0h1m3 0h1m13 0h1m2 0h1m-38 1h2m18 0h2m2 0h2m2 0h2m10 0h2m9 0h1m-43 1h1m3 0h1m7 0h1m5 0h2m2 0h1m6 0h1m-46 1h1m3 0h1m8 0h1m3 0h1m2 0h1m5 0h2m4 0h2m7 0h1m1 0h1m-36 1h2m1 0h2m2 0h1m3 0h1m14 0h1m9 0h1m1 0h1m3 0h1m-33 1h1m10 0h1m3 0h1m1 0h1m-39 1h1m1 0h1m5 0h4m11 0h1m9 0h1m2 0h1m4 0h1m13 0h1m-48 1h1m5 0h1m1 0h1m4 0h1m18 0h1m4 0h1m-6 1h2m8 0h2m1 0h1m-52 1h1m2 0h2m6 0h1m2 0h1m6 0h1m11 0h3m8 0h1m-48 1h2m3 0h1m2 0h2m2 0h1m24 0h1m3 0h1m-40 1h1m4 0h1m2 0h1m4 0h1m4 0h1m11 0h1m7 0h1m4 0h2m1 0h1m-53 1h1m4 0h1m4 0h2m2 0h1m2 0h1m24 0h1m1 0h1m1 0h1m1 0h1m5 0h1m13 0h1m-76 1h1m7 0h1m5 0h1m1 0h1m7 0h1m1 0h1m30 0h2m9 0h3m-62 1h1m3 0h1m39 0h4m12 0h1m-73 1h1m10 0h1m1 0h1m1 0h2m2 0h1m37 0h2m5 0h1m-64 1h1m1 0h1m7 0h1m1 0h1m2 0h1m33 0h1m3 0h1m1 0h1m3 0h1m-68 1h1m13 0h1m4 0h1m3 0h1m24 0h1m5 0h1m1 0h1m1 0h1m3 0h1m1 0h1m-59 1h2m1 0h1m7 0h1m10 0h1m28 0h1m1 0h1m1 0h1m4 0h2m4 0h1m-69 1h1m3 0h1m2 0h1m1 0h1m2 0h3m3 0h1m24 0h1m3 0h1m12 0h1m-62 1h1m2 0h1m1 0h1m11 0h1m19 0h1m8 0h1m9 0h1m-56 1h1m4 0h1m1 0h1m2 0h1m32 0h1m5 0h1m8 0h2m2 0h1m9 0h1m-74 1h1m6 0h2m3 0h1m28 0h1m7 0h1m5 0h1m4 0h1m-63 1h2m2 0h1m36 0h1m1 0h1m1 0h1m2 0h1m15 0h1m5 0h1m-71 1h1m5 0h1m3 0h1m2 0h2m15 0h1m7 0h1m2 0h1m7 0h1m3 0h2m23 0h1m-75 1h2m4 0h1m1 0h1m30 0h1m1 0h1m6 0h2m5 0h1m6 0h2m-65 1h1m8 0h1m5 0h1m21 0h1m7 0h1m2 0h2m-58 1h1m8 0h1m39 0h2m-46 1h2m2 0h2m1 0h1m1 0h2m35 0h2m15 0h1m2 0h1m-73 1h1m9 0h1m12 0h1m8 0h1m15 0h1m3 0h4m-41 1h1m24 0h1m8 0h1m2 0h1m3 0h1m1 0h1m1 0h1m10 0h1m-68 1h1m1 0h1m10 0h1m47 0h1m5 0h1m1 0h1m-69 1h2m4 0h1m36 0h1m9 0h1m7 0h1m-59 1h1m1 0h1m4 0h1m31 0h1m-1 1h1m4 0h2m1 0h1m1 0h1m1 0h1m4 0h1m-65 1h2m2 0h1m1 0h1m40 0h1m5 0h1m3 0h1m9 0h1m-62 1h1m44 0h1m1 0h2m2 0h1m10 0h1m11 0h1m-77 1h1m45 0h1m2 0h1m-53 1h1m8 0h1m37 0h1m3 0h1m2 0h1m1 0h2m2 0h1m5 0h1m-67 1h1m4 0h1m43 0h1m23 0h1m-29 1h1m6 0h1m1 0h1m3 0h1m1 0h1m1 0h1m-63 1h1m1 0h2m1 0h1m39 0h1m7 0h1m1 0h1m-54 1h2m3 0h2m34 0h1m5 0h1m9 0h1m-57 1h1m1 0h1m38 0h1m7 0h1m3 0h1m1 0h1m-61 1h1m5 0h1m40 0h1m2 0h1m2 0h3m4 0h1m2 0h1m1 0h1m5 0h1m-73 1h1m4 0h1m1 0h1m1 0h1m50 0h1m5 0h1m-65 1h1m3 0h1m42 0h1m2 0h1m7 0h1m-58 1h1m42 0h1m6 0h1m14 0h1m-66 1h1m8 0h1m29 0h1m2 0h1m1 0h1m-43 1h3m29 0h1m5 0h1m5 0h2m-46 1h1m18 0h1m10 0h1m10 0h1m3 0h1m-48 1h1m1 0h1m10 0h1m12 0h1m14 0h1m1 0h1m2 0h1m-39 1h1m37 0h1m-49 1h3m26 0h1m15 0h2m5 0h1m15 0h1m-65 1h1m5 0h1m26 0h1m5 0h1m3 0h2m-46 1h1m1 0h1m8 0h2m2 0h1m19 0h2m2 0h1m18 0h1m-59 1h1m3 0h1m3 0h1m3 0h1m4 0h1m19 0h1m3 0h1m-45 1h1m4 0h1m3 0h1m11 0h1m3 0h2m2 0h1m1 0h1m4 0h2m4 0h1m3 0h1m8 0h1m-55 1h1m3 0h1m5 0h1m15 0h1m10 0h5m4 0h1m4 0h1m-53 1h1m3 0h1m4 0h1m5 0h1m3 0h1m6 0h1m2 0h2m5 0h2m23 0h1m4 0h1m2 0h1m-63 1h1m3 0h1m1 0h1m6 0h3m1 0h4m2 0h1m2 0h1m3 0h1m5 0h1m-43 1h1m2 0h1m3 0h1m2 0h4m2 0h1m1 0h1m2 0h1m6 0h1m7 0h1m-33 1h1m2 0h1m1 0h2m1 0h2m6 0h1m9 0h1m8 0h1m-41 1h2m16 0h2m10 0h1m-32 1h1m7 0h1m1 0h1m6 0h1m6 0h2m2 0h1m6 0h1m2 0h1m7 0h1m-47 1h1m2 0h1m1 0h1m10 0h1m1 0h1m9 0h2m1 0h2m2 0h2m3 0h2" stroke="#f2555b"/><path d="M114 220.5h1m-26 3h1m13 0h1m7 1h1m-33 1h1m5 3h1m-5 1h1m6 0h1m2 0h1m1 0h1m1 0h1m13 0h1m-42 1h1m2 0h1m1 0h1m1 0h1m8 0h2m2 0h2m2 0h2m1 0h4m3 0h1m-30 1h1m5 0h1m2 0h1m3 0h4m3 0h2m2 0h1m3 0h1m2 0h1m2 0h1m15 0h1m-55 1h1m1 0h1m1 0h1m2 0h1m1 0h1m4 0h1m1 0h6m2 0h1m3 0h1m8 0h2m6 0h1m10 0h1m-51 1h1m2 0h3m1 0h2m1 0h2m1 0h2m3 0h3m2 0h3m3 0h1m5 0h1m-51 1h1m13 0h1m2 0h2m1 0h1m3 0h14m1 0h2m2 0h1m-32 1h3m1 0h6m1 0h10m1 0h3m3 0h1m1 0h1m1 0h1m3 0h1m-47 1h1m3 0h1m6 0h4m2 0h5m1 0h9m1 0h2m1 0h4m2 0h1m2 0h1m-43 1h1m5 0h1m2 0h1m1 0h1m1 0h4m1 0h1m1 0h16m1 0h2m7 0h1m-58 1h1m6 0h1m4 0h1m3 0h1m1 0h1m1 0h2m1 0h24m3 0h1m5 0h1m-58 1h1m3 0h1m6 0h2m4 0h4m1 0h2m1 0h6m1 0h11m3 0h5m9 0h1m1 0h1m10 0h1m-63 1h1m2 0h1m2 0h2m1 0h24m1 0h3m1 0h5m2 0h1m9 0h1m-60 1h1m3 0h3m1 0h2m2 0h3m1 0h1m1 0h2m1 0h11m2 0h6m1 0h4m2 0h1m-55 1h1m1 0h1m2 0h2m2 0h1m1 0h2m2 0h1m2 0h2m1 0h24m3 0h1m1 0h1m4 0h2m-67 1h1m15 0h4m1 0h1m1 0h6m2 0h1m1 0h25m2 0h2m-66 1h1m6 0h1m5 0h1m1 0h2m5 0h1m1 0h2m1 0h14m1 0h18m1 0h2m-46 1h1m1 0h1m1 0h1m2 0h2m3 0h31m1 0h1m4 0h2m-62 1h1m8 0h1m3 0h1m1 0h1m2 0h3m1 0h5m1 0h23m1 0h3m1 0h1m2 0h1m-56 1h1m2 0h1m1 0h2m1 0h1m1 0h2m2 0h24m1 0h5m1 0h1m1 0h1m1 0h3m1 0h1m1 0h2m12 0h2m-78 1h1m4 0h1m5 0h3m1 0h2m1 0h7m1 0h21m1 0h6m1 0h1m6 0h1m7 0h1m-68 1h1m3 0h1m1 0h1m2 0h1m3 0h1m1 0h1m1 0h24m1 0h2m2 0h3m3 0h1m1 0h1m1 0h1m8 0h1m2 0h1m-66 1h4m1 0h6m1 0h19m1 0h8m1 0h3m1 0h3m8 0h1m3 0h1m-63 1h1m7 0h32m1 0h1m1 0h2m2 0h1m1 0h3m6 0h1m2 0h1m13 0h1m-76 1h2m3 0h3m1 0h28m1 0h2m1 0h1m1 0h2m4 0h1m4 0h1m-62 1h1m5 0h1m1 0h1m1 0h1m1 0h1m1 0h28m1 0h1m1 0h1m1 0h1m2 0h5m2 0h1m-62 1h1m13 0h1m1 0h2m2 0h15m1 0h7m1 0h2m1 0h6m3 0h2m7 0h1m-54 1h3m1 0h1m1 0h30m1 0h1m1 0h3m1 0h1m-47 1h1m1 0h6m1 0h5m1 0h21m2 0h6m7 0h2m1 0h1m-59 1h1m1 0h1m2 0h39m2 0h3m3 0h1m-58 1h1m10 0h1m1 0h1m2 0h35m2 0h1m1 0h1m6 0h1m4 0h1m-71 1h1m2 0h2m2 0h1m3 0h1m1 0h9m1 0h2m1 0h8m1 0h15m1 0h2m6 0h1m3 0h1m3 0h1m-65 1h1m5 0h1m3 0h4m1 0h24m1 0h8m1 0h2m2 0h1m2 0h1m7 0h1m-59 1h2m2 0h6m1 0h33m1 0h2m1 0h3m-54 1h1m2 0h1m1 0h1m2 0h36m1 0h6m6 0h1m3 0h1m8 0h1m-75 1h1m1 0h2m2 0h2m1 0h1m1 0h4m1 0h31m1 0h2m1 0h2m1 0h4m1 0h1m-60 1h1m5 0h4m1 0h36m2 0h3m6 0h1m3 0h1m5 0h1m-61 1h1m1 0h37m1 0h5m3 0h1m1 0h4m-61 1h5m3 0h42m4 0h1m7 0h1m1 0h1m-64 1h1m4 0h43m1 0h2m2 0h1m2 0h2m13 0h1m-72 1h1m1 0h2m3 0h1m2 0h36m1 0h3m1 0h2m1 0h1m-59 1h2m2 0h4m1 0h43m2 0h2m7 0h1m-62 1h2m2 0h1m1 0h1m1 0h38m1 0h5m2 0h1m-53 1h1m2 0h1m1 0h39m1 0h3m1 0h1m1 0h1m3 0h2m3 0h1m5 0h1m-64 1h3m2 0h34m1 0h5m6 0h1m-58 1h1m2 0h2m1 0h1m1 0h35m1 0h1m2 0h2m2 0h1m-48 1h2m1 0h2m1 0h37m1 0h2m1 0h1m-51 1h1m1 0h1m1 0h1m1 0h1m1 0h1m1 0h37m2 0h1m1 0h1m-50 1h2m1 0h1m1 0h31m1 0h8m1 0h2m5 0h1m-56 1h1m1 0h1m1 0h6m1 0h33m2 0h2m11 0h1m-60 1h1m1 0h8m1 0h29m1 0h2m1 0h1m3 0h2m4 0h1m11 0h1m-68 1h4m3 0h29m1 0h5m2 0h4m4 0h1m-53 1h4m1 0h18m1 0h10m1 0h9m9 0h1m6 0h1m3 0h1m-62 1h1m1 0h1m1 0h8m1 0h12m1 0h14m1 0h1m4 0h1m2 0h1m1 0h1m-54 1h9m1 0h30m1 0h3m1 0h1m4 0h2m-50 1h26m1 0h6m1 0h5m2 0h1m5 0h1m3 0h1m5 0h1m-60 1h3m1 0h5m1 0h16m1 0h2m1 0h6m1 0h1m1 0h1m4 0h1m6 0h1m-52 1h1m6 0h6m2 0h2m1 0h5m1 0h13m2 0h2m1 0h3m8 0h1m-54 1h2m1 0h2m2 0h3m1 0h3m1 0h4m1 0h7m1 0h11m1 0h1m-41 1h1m2 0h1m1 0h3m1 0h1m1 0h9m1 0h3m2 0h2m1 0h1m1 0h2m1 0h1m9 0h1m-46 1h1m1 0h3m1 0h5m1 0h3m2 0h2m1 0h7m1 0h2m1 0h4m-32 1h1m1 0h4m1 0h4m2 0h3m1 0h1m1 0h3m2 0h2m2 0h4m3 0h1m1 0h1m2 0h1m2 0h1m-46 1h2m1 0h3m1 0h1m1 0h1m1 0h1m1 0h1m1 0h2m1 0h1m8 0h2m1 0h2m1 0h1m1 0h1m1 0h2m1 0h1m-40 1h2m3 0h1m1 0h2m4 0h2m1 0h1m1 0h2m3 0h4m1 0h2m1 0h1m1 0h1m2 0h1m2 0h2m1 0h1m-44 1h1m5 0h1m1 0h1m2 0h1m3 0h1m1 0h3m1 0h6m1 0h2m1 0h2m4 0h2m-38 1h3m3 0h1m1 0h8m2 0h1m1 0h3m1 0h4m1 0h1m5 0h1m1 0h1m1 0h3m-43 1h1m1 0h1m1 0h2m1 0h1m1 0h6m1 0h2m1 0h1m4 0h2m1 0h1m3 0h2m-33 1h1m1 0h1m1 0h1m1 0h1m2 0h1m2 0h2m3 0h1m2 0h1m1 0h2m1 0h1m5 0h2m4 0h1" stroke="#ee1c24"/></g>
<path d="M82.5 182.5V296.3M31.7 248.5H170.5" stroke="#7a7a7a" stroke-width="1" fill="none"/>
<rect x="31.7" y="182.5" width="138.8" height="113.8" fill="none" stroke="#6266cc" stroke-width="1.6"/>
<path d="M48.49 296.3v3.5M31.7 280.37h-3.5M59.19 296.3v2.6M31.7 272.04h-2M65.45 296.3v2.6M31.7 267.17h-2M69.89 296.3v2.6M31.7 263.72h-2M73.33 296.3v2.6M31.7 261.04h-2M76.14 296.3v2.6M31.7 258.85h-2M78.52 296.3v2.6M31.7 257h-2M80.58 296.3v2.6M31.7 255.39h-2M82.4 296.3v2.6M31.7 253.98h-2M84.03 296.3v3.5M31.7 252.71h-3.5M94.72 296.3v2.6M31.7 244.39h-2M100.98 296.3v2.6M31.7 239.52h-2M105.42 296.3v2.6M31.7 236.07h-2M108.86 296.3v2.6M31.7 233.39h-2M111.68 296.3v2.6M31.7 231.2h-2M114.06 296.3v2.6M31.7 229.34h-2M116.12 296.3v2.6M31.7 227.74h-2M117.93 296.3v2.6M31.7 226.33h-2M119.56 296.3v3.5M31.7 225.06h-3.5M130.26 296.3v2.6M31.7 216.74h-2M136.51 296.3v2.6M31.7 211.87h-2M140.95 296.3v2.6M31.7 208.41h-2M144.4 296.3v2.6M31.7 205.73h-2M147.21 296.3v2.6M31.7 203.54h-2M149.59 296.3v2.6M31.7 201.69h-2M151.65 296.3v2.6M31.7 200.09h-2M153.47 296.3v2.6M31.7 198.67h-2M155.09 296.3v3.5M31.7 197.41h-3.5M165.79 296.3v2.6M31.7 189.08h-2M31.7 184.21h-2M35.86 296.3v2.6M31.7 292.89h-2M39.33 296.3v2.6M31.7 290.04h-2M42.11 296.3v2.6M31.7 287.76h-2M44.89 296.3v2.6M31.7 285.49h-2" stroke="#4048c0" stroke-width="1" fill="none"/>
<g fill="#4048c0" font-family="Liberation Sans, sans-serif" font-weight="bold" font-size="5.6"><text x="32.2" y="304.3" text-anchor="middle">0</text><text x="48.49" y="304.3" text-anchor="middle">2</text><text x="45.49" y="311.3" text-anchor="middle">10</text><text x="84.03" y="304.3" text-anchor="middle">3</text><text x="81.03" y="311.3" text-anchor="middle">10</text><text x="119.56" y="304.3" text-anchor="middle">4</text><text x="116.56" y="311.3" text-anchor="middle">10</text><text x="155.09" y="304.3" text-anchor="middle">5</text><text x="152.09" y="311.3" text-anchor="middle">10</text><text transform="translate(25.5,280.87) rotate(-90)" text-anchor="middle">10</text><text transform="translate(17.6,278.07) rotate(-90)" text-anchor="middle">2</text><text transform="translate(25.5,253.21) rotate(-90)" text-anchor="middle">10</text><text transform="translate(17.6,250.41) rotate(-90)" text-anchor="middle">3</text><text transform="translate(25.5,225.56) rotate(-90)" text-anchor="middle">10</text><text transform="translate(17.6,222.76) rotate(-90)" text-anchor="middle">4</text><text transform="translate(25.5,197.91) rotate(-90)" text-anchor="middle">10</text><text transform="translate(17.6,195.11) rotate(-90)" text-anchor="middle">5</text></g>
<text x="74.45" y="318.9" fill="#e0202c" stroke="#e0202c" stroke-width="0.3" font-family="Liberation Mono, monospace" font-weight="bold" font-size="6.5">Annexin V-FITC</text>
<text transform="translate(10.7,233.48) rotate(-90)" text-anchor="middle" fill="#e0202c" stroke="#e0202c" stroke-width="0.2" font-family="Liberation Mono, monospace" font-weight="bold" font-style="italic" font-size="6.8">PI</text>
<g fill="#000" stroke="#000" stroke-width="0.15" font-family="Liberation Sans, sans-serif" font-weight="bold" font-size="5.1"><text x="40" y="211">7.09%</text><text x="150" y="213">13.31%</text><text x="144.8" y="285.7">4.11%</text></g>
<g stroke-width="1" fill="none" filter="url(#bl)"><path d="M292 213.5h1m-18 6h1m20 0h1m5 0h1m-28 1h1m25 1h1m-26 1h1m-6 1h1m-8 1h1m23 0h1m-18 1h1m4 0h2m1 0h1m10 0h1m5 0h1m-31 1h1m18 0h1m2 0h2m-45 1h1m27 0h1m3 0h1m1 0h1m-19 1h1m2 0h1m15 0h1m1 0h1m2 0h1m7 0h1m2 0h1m-44 1h1m9 0h1m11 0h1m1 0h1m17 0h1m5 0h1m-43 1h1m4 0h1m1 0h1m3 0h1m8 0h1m1 0h1m1 0h1m7 0h1m2 0h1m-29 1h1m1 0h1m7 0h1m1 0h1m6 0h1m8 0h1m9 0h1m-51 1h1m3 0h1m9 0h2m3 0h1m4 0h1m5 0h2m11 0h1m-32 1h1m2 0h1m31 0h1m-55 1h1m16 0h1m8 0h1m4 0h1m3 0h1m8 0h1m4 0h1m-40 1h1m1 0h1m2 0h1m4 0h1m15 0h1m1 0h1m5 0h1m1 0h1m1 0h1m-46 1h1m4 0h1m12 0h1m2 0h1m12 0h3m12 0h1m-54 1h2m10 0h1m3 0h1m2 0h1m-13 1h1m1 0h1m2 0h3m1 0h1m27 0h1m-36 1h2m4 0h1m3 0h1m15 0h2m1 0h1m1 0h2m3 0h1m-49 1h1m6 0h1m2 0h1m1 0h2m1 0h1m25 0h2m-52 1h1m7 0h2m5 0h1m5 0h1m10 0h1m24 0h1m-59 1h1m14 0h1m2 0h1m18 0h1m25 0h1m-57 1h2m2 0h2m2 0h1m5 0h1m1 0h1m2 0h1m29 0h1m3 0h1m-62 1h1m2 0h1m7 0h1m2 0h1m3 0h2m6 0h2m24 0h1m5 0h1m11 0h1m-71 1h1m5 0h2m5 0h2m42 0h1m-63 1h1m13 0h2m6 0h1m6 0h2m4 0h1m19 0h1m5 0h1m-63 1h1m5 0h1m2 0h2m1 0h1m6 0h1m3 0h1m8 0h1m17 0h1m5 0h2m1 0h1m1 0h1m1 0h1m8 0h1m-72 1h1m6 0h1m1 0h1m1 0h2m22 0h1m14 0h1m6 0h1m1 0h2m1 0h1m-67 1h1m4 0h1m8 0h2m26 0h1m6 0h1m13 0h1m5 0h1m-71 1h1m42 0h2m9 0h3m2 0h1m11 0h1m4 0h1m-72 1h1m2 0h1m31 0h2m2 0h1m1 0h1m1 0h1m1 0h1m4 0h1m2 0h1m1 0h1m-54 1h2m22 0h1m26 0h1m4 0h1m1 0h1m9 0h1m-74 1h1m1 0h3m9 0h1m20 0h1m5 0h1m3 0h1m7 0h1m-64 1h1m6 0h3m34 0h1m12 0h2m2 0h1m3 0h1m-58 1h1m3 0h2m7 0h1m16 0h1m4 0h1m11 0h1m3 0h1m7 0h1m1 0h1m-55 1h1m3 0h1m30 0h1m6 0h1m1 0h1m2 0h1m7 0h1m-69 1h1m53 0h1m3 0h2m-51 1h1m1 0h1m42 0h1m3 0h1m1 0h1m10 0h1m-70 1h1m2 0h1m46 0h1m5 0h3m3 0h1m7 0h1m-74 1h2m3 0h1m2 0h1m42 0h1m1 0h2m2 0h1m4 0h1m-60 1h1m2 0h2m33 0h1m3 0h1m4 0h1m6 0h1m4 0h1m-59 1h1m1 0h1m39 0h1m1 0h1m4 0h1m2 0h1m6 0h1m2 0h1m-68 1h2m1 0h1m4 0h1m4 0h1m34 0h1m4 0h1m1 0h1m4 0h1m1 0h2m-55 1h1m40 0h1m8 0h1m1 0h1m-60 1h1m1 0h2m40 0h1m10 0h1m-50 1h2m40 0h1m1 0h1m1 0h1m-54 1h1m1 0h1m1 0h1m4 0h1m36 0h1m5 0h1m-50 1h1m11 0h1m31 0h1m11 0h2m-61 1h1m1 0h1m51 0h1m3 0h1m-56 1h1m1 0h1m7 0h1m36 0h1m3 0h2m2 0h1m-60 1h1m4 0h1m3 0h1m2 0h1m-3 1h1m35 0h2m16 0h1m-64 1h2m1 0h2m43 0h2m1 0h1m3 0h1m-56 1h1m2 0h1m2 0h1m1 0h1m34 0h1m2 0h1m1 0h1m5 0h1m14 0h1m-68 1h1m1 0h2m4 0h1m40 0h1m-36 1h1m1 0h1m28 0h1m2 0h1m6 0h1m3 0h1m-61 1h1m1 0h2m1 0h1m45 0h3m-54 1h1m5 0h1m33 0h1m7 0h1m2 0h1m2 0h1m-56 1h1m1 0h1m2 0h1m37 0h1m-42 1h1m2 0h1m3 0h1m10 0h1m4 0h1m13 0h1m6 0h1m-47 1h1m3 0h1m3 0h1m3 0h1m7 0h1m19 0h1m5 0h1m1 0h1m-49 1h2m4 0h2m9 0h1m7 0h1m14 0h1m2 0h2m1 0h1m7 0h1m-54 1h1m8 0h1m11 0h1m9 0h1m4 0h2m13 0h1m-53 1h1m1 0h1m2 0h1m3 0h1m11 0h1m2 0h1m10 0h1m4 0h1m-36 1h1m3 0h1m2 0h1m11 0h1m8 0h1m4 0h2m9 0h1m-46 1h2m2 0h1m3 0h1m1 0h1m1 0h1m4 0h1m5 0h1m8 0h1m4 0h1m2 0h2m1 0h1m-49 1h1m4 0h1m2 0h1m1 0h1m3 0h1m4 0h1m3 0h1m6 0h1m5 0h1m6 0h1m-40 1h1m14 0h1m20 0h3m1 0h2m11 0h1m-57 1h2m8 0h1m2 0h1m1 0h2m1 0h1m5 0h1m9 0h1m2 0h1m3 0h3m1 0h1m-47 1h1m1 0h1m1 0h1m4 0h1m1 0h1m2 0h3m2 0h1m1 0h1m4 0h1m3 0h2m1 0h3m2 0h1m2 0h3m1 0h1m3 0h2m-51 1h3m1 0h1m2 0h1m3 0h1m10 0h1m3 0h2m3 0h1m1 0h1m3 0h2m2 0h1m1 0h1m2 0h1m4 0h2m-36 1h1m1 0h1m10 0h1m10 0h1m1 0h1m10 0h1m-55 1h1m6 0h3m2 0h1m1 0h1m1 0h1m2 0h1m1 0h1m1 0h1m1 0h1m3 0h1m1 0h3m4 0h1m2 0h1m1 0h1m-39 1h1m1 0h1m3 0h1m4 0h3m2 0h1m4 0h1m1 0h1m3 0h2m-28 1h1m7 0h2m7 0h1m2 0h1m4 0h1m3 0h1m11 0h1m1 0h1m1 0h2" stroke="#f2555b"/><path d="M264 217.5h1m9 3h1m16 2h1m-7 1h1m14 0h1m-22 1h1m1 0h1m1 0h1m8 0h1m-11 2h1m3 0h1m11 0h1m-45 1h1m26 0h2m3 0h1m12 0h1m-33 1h1m6 0h4m3 0h1m-18 1h1m3 0h1m1 0h4m4 0h2m28 0h1m-55 1h1m8 0h1m5 0h1m2 0h2m2 0h2m2 0h1m5 0h1m1 0h1m11 0h1m-47 1h1m9 0h2m4 0h1m2 0h3m3 0h1m4 0h1m1 0h1m8 0h1m-52 1h1m22 0h1m2 0h1m1 0h1m1 0h4m1 0h1m1 0h1m-28 1h1m5 0h2m3 0h1m1 0h1m3 0h2m1 0h1m1 0h6m1 0h1m1 0h4m2 0h1m-39 1h1m3 0h1m10 0h2m1 0h2m1 0h4m3 0h1m1 0h6m4 0h1m-38 1h1m7 0h3m1 0h7m1 0h7m3 0h1m-36 1h1m4 0h2m3 0h2m1 0h2m1 0h1m1 0h2m1 0h11m4 0h2m3 0h1m-40 1h2m1 0h1m3 0h2m1 0h2m1 0h21m4 0h1m3 0h1m2 0h1m-45 1h1m1 0h2m5 0h1m1 0h12m1 0h11m2 0h1m1 0h1m-44 1h1m1 0h3m2 0h3m4 0h1m1 0h3m1 0h11m2 0h1m1 0h1m2 0h2m-45 1h2m2 0h1m4 0h1m4 0h2m1 0h22m2 0h3m-42 1h1m4 0h2m2 0h2m1 0h3m1 0h3m1 0h16m1 0h3m1 0h2m8 0h1m-69 1h1m6 0h2m6 0h3m2 0h1m1 0h8m1 0h9m1 0h16m-52 1h1m1 0h1m4 0h1m4 0h1m1 0h2m1 0h2m1 0h1m1 0h2m1 0h28m2 0h1m-53 1h1m1 0h1m1 0h1m4 0h3m3 0h1m1 0h3m2 0h2m1 0h21m1 0h2m1 0h1m10 0h1m-63 1h1m4 0h3m2 0h6m1 0h29m1 0h5m3 0h2m-74 1h1m7 0h1m5 0h1m4 0h1m4 0h5m1 0h6m2 0h3m2 0h19m3 0h2m17 0h1m-77 1h1m4 0h2m4 0h2m1 0h3m1 0h3m2 0h7m1 0h4m1 0h2m1 0h9m1 0h5m2 0h1m3 0h1m7 0h1m-71 1h1m10 0h1m3 0h21m1 0h14m1 0h6m4 0h1m-62 1h1m2 0h1m3 0h3m2 0h1m2 0h21m1 0h1m1 0h6m1 0h7m1 0h1m1 0h1m-61 1h1m3 0h3m1 0h7m1 0h26m2 0h6m1 0h2m3 0h1m2 0h1m-59 1h1m6 0h3m1 0h27m2 0h2m1 0h1m1 0h1m3 0h3m2 0h2m6 0h1m-71 1h1m5 0h1m1 0h1m1 0h3m2 0h12m1 0h9m1 0h11m1 0h4m1 0h1m1 0h3m5 0h1m-63 1h2m4 0h1m4 0h8m1 0h20m1 0h5m1 0h3m2 0h2m1 0h1m7 0h1m-58 1h4m1 0h28m1 0h12m3 0h1m-56 1h1m4 0h2m2 0h7m1 0h16m1 0h4m1 0h9m1 0h1m1 0h1m-51 1h1m1 0h1m2 0h4m1 0h3m1 0h30m1 0h6m1 0h1m1 0h1m2 0h1m4 0h1m-63 1h1m3 0h1m1 0h44m1 0h1m-56 1h1m4 0h2m3 0h1m1 0h2m1 0h30m1 0h7m3 0h2m1 0h1m5 0h1m-59 1h43m1 0h1m1 0h2m6 0h1m-54 1h42m1 0h1m3 0h1m3 0h1m-60 1h1m3 0h1m2 0h1m1 0h3m1 0h27m1 0h3m1 0h2m1 0h1m1 0h2m1 0h1m-56 1h1m1 0h1m3 0h1m1 0h4m1 0h34m3 0h4m1 0h2m1 0h1m-55 1h1m1 0h2m1 0h4m1 0h31m1 0h2m1 0h1m1 0h2m1 0h1m1 0h2m-58 1h1m2 0h6m1 0h40m1 0h6m1 0h1m-59 1h2m4 0h40m1 0h1m1 0h4m1 0h1m3 0h1m5 0h1m-65 1h3m1 0h1m1 0h2m3 0h36m1 0h2m1 0h1m1 0h1m1 0h1m-52 1h1m1 0h4m1 0h36m1 0h3m1 0h1m1 0h1m2 0h2m5 0h1m-64 1h2m2 0h11m1 0h31m1 0h3m1 0h1m1 0h1m-56 1h1m1 0h1m1 0h40m1 0h4m1 0h1m1 0h3m1 0h2m2 0h2m1 0h1m-63 1h2m2 0h1m1 0h1m1 0h5m1 0h36m10 0h1m-60 1h3m1 0h3m1 0h2m1 0h28m1 0h1m1 0h3m2 0h2m1 0h2m2 0h1m-57 1h1m2 0h2m2 0h3m1 0h35m2 0h6m-54 1h1m2 0h1m3 0h38m1 0h3m2 0h1m1 0h1m1 0h1m3 0h1m-58 1h1m2 0h1m2 0h1m1 0h34m1 0h1m2 0h1m3 0h1m3 0h1m4 0h1m-62 1h3m1 0h1m3 0h3m1 0h34m1 0h3m3 0h1m-54 1h14m1 0h2m1 0h1m1 0h28m-48 1h2m4 0h1m1 0h41m-48 1h1m1 0h1m2 0h2m1 0h33m1 0h5m1 0h1m1 0h1m-52 1h1m4 0h1m1 0h12m1 0h24m1 0h2m1 0h1m1 0h2m1 0h1m-54 1h3m1 0h2m1 0h1m1 0h1m1 0h3m1 0h6m1 0h4m1 0h13m1 0h2m1 0h3m3 0h1m1 0h1m-50 1h2m2 0h2m1 0h3m1 0h2m1 0h4m1 0h19m1 0h2m2 0h1m-44 1h1m2 0h1m2 0h9m1 0h7m1 0h5m1 0h8m1 0h2m2 0h1m2 0h1m3 0h1m-53 1h1m1 0h1m2 0h5m2 0h1m1 0h3m1 0h4m2 0h3m1 0h4m1 0h2m1 0h1m2 0h2m1 0h1m1 0h4m1 0h1m-51 1h1m1 0h1m1 0h2m1 0h3m2 0h7m1 0h2m1 0h2m1 0h6m1 0h3m1 0h4m1 0h5m1 0h1m-49 1h1m1 0h1m1 0h2m2 0h2m2 0h1m1 0h11m1 0h4m1 0h3m1 0h4m2 0h2m1 0h1m2 0h2m2 0h1m1 0h2m-52 1h2m2 0h2m1 0h1m1 0h1m1 0h1m1 0h1m1 0h2m1 0h1m1 0h5m1 0h5m1 0h2m1 0h3m6 0h1m-47 1h1m2 0h1m1 0h2m1 0h1m1 0h3m1 0h4m1 0h1m1 0h1m1 0h6m2 0h4m1 0h3m1 0h1m3 0h1m2 0h1m-49 1h2m1 0h1m2 0h7m1 0h1m3 0h1m2 0h3m1 0h1m1 0h1m1 0h5m1 0h5m3 0h1m-41 1h2m1 0h1m1 0h1m1 0h1m2 0h1m6 0h1m1 0h3m1 0h4m3 0h2m2 0h1m1 0h2m4 0h1m8 0h1m-54 1h1m1 0h1m2 0h2m4 0h2m4 0h1m3 0h4m3 0h1m6 0h2m1 0h2m3 0h1m3 0h1m4 0h1m-49 1h1m2 0h1m3 0h10m1 0h3m2 0h3m5 0h1m5 0h1m1 0h1m-45 1h2m1 0h1m1 0h1m1 0h2m1 0h2m2 0h1m5 0h3m1 0h6m1 0h3m1 0h1m1 0h1m1 0h2m1 0h1m1 0h3m4 0h1m-51 1h2m1 0h1m5 0h2m1 0h1m1 0h1m1 0h2m1 0h1m1 0h1m1 0h1m2 0h2m1 0h1m3 0h1m1 0h2m6 0h1m1 0h1m-46 1h3m2 0h1m1 0h1m1 0h1m1 0h4m3 0h2m1 0h4m1 0h1m1 0h1m1 0h1m2 0h8m4 0h1m1 0h1m6 0h1m-54 1h4m1 0h2m1 0h1m1 0h2m2 0h1m2 0h4m1 0h2m1 0h2m1 0h1m1 0h1m1 0h1m1 0h1m2 0h1m1 0h4m1 0h1" stroke="#ee1c24"/></g>
<path d="M266.5 182.5V296M213.4 249.5H351.3" stroke="#7a7a7a" stroke-width="1" fill="none"/>
<rect x="213.4" y="182.5" width="137.9" height="113.5" fill="none" stroke="#6266cc" stroke-width="1.6"/>
<path d="M230.09 296v3.5M213.4 280.11h-3.5M240.71 296v2.6M213.4 271.81h-2M246.93 296v2.6M213.4 266.95h-2M251.34 296v2.6M213.4 263.5h-2M254.76 296v2.6M213.4 260.83h-2M257.56 296v2.6M213.4 258.65h-2M259.92 296v2.6M213.4 256.8h-2M261.97 296v2.6M213.4 255.2h-2M263.77 296v2.6M213.4 253.79h-2M265.39 296v3.5M213.4 252.53h-3.5M276.02 296v2.6M213.4 244.23h-2M282.23 296v2.6M213.4 239.37h-2M286.64 296v2.6M213.4 235.92h-2M290.06 296v2.6M213.4 233.25h-2M292.86 296v2.6M213.4 231.07h-2M295.22 296v2.6M213.4 229.22h-2M297.27 296v2.6M213.4 227.62h-2M299.08 296v2.6M213.4 226.21h-2M300.69 296v3.5M213.4 224.95h-3.5M311.32 296v2.6M213.4 216.65h-2M317.53 296v2.6M213.4 211.79h-2M321.94 296v2.6M213.4 208.34h-2M325.37 296v2.6M213.4 205.67h-2M328.16 296v2.6M213.4 203.49h-2M330.52 296v2.6M213.4 201.64h-2M332.57 296v2.6M213.4 200.04h-2M334.38 296v2.6M213.4 198.63h-2M335.99 296v3.5M213.4 197.37h-3.5M346.62 296v2.6M213.4 189.07h-2M213.4 184.21h-2M217.54 296v2.6M213.4 292.6h-2M220.98 296v2.6M213.4 289.76h-2M223.74 296v2.6M213.4 287.49h-2M226.5 296v2.6M213.4 285.22h-2" stroke="#4048c0" stroke-width="1" fill="none"/>
<g fill="#4048c0" font-family="Liberation Sans, sans-serif" font-weight="bold" font-size="5.6"><text x="213.9" y="304" text-anchor="middle">0</text><text x="230.09" y="304" text-anchor="middle">2</text><text x="227.09" y="311" text-anchor="middle">10</text><text x="265.39" y="304" text-anchor="middle">3</text><text x="262.39" y="311" text-anchor="middle">10</text><text x="300.69" y="304" text-anchor="middle">4</text><text x="297.69" y="311" text-anchor="middle">10</text><text x="335.99" y="304" text-anchor="middle">5</text><text x="332.99" y="311" text-anchor="middle">10</text><text transform="translate(207.2,280.61) rotate(-90)" text-anchor="middle">10</text><text transform="translate(199.3,277.81) rotate(-90)" text-anchor="middle">2</text><text transform="translate(207.2,253.03) rotate(-90)" text-anchor="middle">10</text><text transform="translate(199.3,250.23) rotate(-90)" text-anchor="middle">3</text><text transform="translate(207.2,225.45) rotate(-90)" text-anchor="middle">10</text><text transform="translate(199.3,222.65) rotate(-90)" text-anchor="middle">4</text><text transform="translate(207.2,197.87) rotate(-90)" text-anchor="middle">10</text><text transform="translate(199.3,195.07) rotate(-90)" text-anchor="middle">5</text></g>
<text x="255.87" y="318.6" fill="#e0202c" stroke="#e0202c" stroke-width="0.3" font-family="Liberation Mono, monospace" font-weight="bold" font-size="6.5">Annexin V-FITC</text>
<text transform="translate(192.4,233.35) rotate(-90)" text-anchor="middle" fill="#e0202c" stroke="#e0202c" stroke-width="0.2" font-family="Liberation Mono, monospace" font-weight="bold" font-style="italic" font-size="6.8">PI</text>
<g fill="#000" stroke="#000" stroke-width="0.15" font-family="Liberation Sans, sans-serif" font-weight="bold" font-size="5.1"><text x="222.5" y="208.8">4.34%</text><text x="329.5" y="207">11.96%</text><text x="325.5" y="281">2.99%</text></g>
<g stroke-width="1" fill="none" filter="url(#bl)"><path d="M484 227.5h1m-42 2h1m10 1h2m9 0h1m2 0h1m12 0h1m-29 1h1m5 0h1m2 0h1m4 0h1m3 0h1m2 0h1m-27 1h1m10 0h1m4 0h1m5 0h2m4 0h1m-23 1h1m4 0h1m3 0h1m3 0h1m1 0h1m3 0h1m2 0h1m-18 1h1m4 0h1m6 0h1m6 0h1m-29 1h1m1 0h3m2 0h2m4 0h1m3 0h1m9 0h1m3 0h1m-42 1h1m6 0h1m3 0h2m2 0h1m1 0h1m3 0h1m1 0h1m1 0h1m1 0h3m1 0h2m5 0h1m-51 1h1m4 0h1m6 0h1m15 0h1m6 0h1m5 0h2m3 0h1m4 0h1m5 0h1m-46 1h1m2 0h1m9 0h1m1 0h1m15 0h2m3 0h1m-30 1h1m18 0h1m3 0h1m4 0h1m4 0h2m3 0h1m-60 1h2m9 0h1m1 0h1m4 0h1m1 0h2m4 0h1m1 0h1m10 0h1m12 0h1m-44 1h1m6 0h1m14 0h1m1 0h1m4 0h1m4 0h1m15 0h1m-55 1h1m7 0h1m1 0h1m5 0h1m1 0h1m6 0h1m6 0h2m2 0h1m7 0h1m1 0h2m-47 1h1m2 0h1m5 0h1m2 0h2m19 0h1m7 0h1m3 0h1m3 0h1m-42 1h2m4 0h1m20 0h1m4 0h3m-49 1h1m1 0h1m6 0h1m7 0h1m11 0h1m9 0h1m4 0h1m1 0h1m1 0h1m1 0h4m1 0h1m1 0h1m-63 1h1m12 0h1m1 0h1m4 0h1m15 0h1m1 0h1m2 0h1m5 0h2m1 0h2m1 0h1m1 0h1m4 0h1m-48 1h1m3 0h1m12 0h1m18 0h1m2 0h1m3 0h1m-53 1h1m4 0h1m2 0h1m29 0h1m1 0h1m6 0h1m4 0h1m8 0h2m-75 1h1m23 0h1m1 0h1m16 0h1m12 0h1m1 0h1m3 0h1m7 0h1m-60 1h1m2 0h1m4 0h1m2 0h1m17 0h1m13 0h1m2 0h2m-40 1h1m20 0h1m3 0h1m3 0h1m1 0h2m15 0h1m1 0h1m4 0h1m-73 1h1m7 0h1m7 0h1m1 0h1m5 0h2m19 0h1m6 0h3m1 0h1m3 0h1m-60 1h1m4 0h1m2 0h1m2 0h2m22 0h1m10 0h2m1 0h1m1 0h2m2 0h2m2 0h1m8 0h1m-55 1h1m31 0h1m2 0h1m-44 1h1m1 0h2m10 0h1m9 0h1m15 0h4m1 0h1m2 0h1m6 0h1m-57 1h1m1 0h2m14 0h1m23 0h1m1 0h1m7 0h1m6 0h1m-54 1h1m4 0h1m23 0h1m5 0h1m2 0h1m9 0h1m-57 1h1m43 0h1m10 0h1m-58 1h1m12 0h1m2 0h1m31 0h1m3 0h1m-62 1h1m5 0h1m6 0h1m8 0h1m31 0h1m7 0h1m2 0h1m1 0h1m1 0h1m3 0h2m-72 1h1m7 0h1m3 0h1m3 0h1m38 0h1m14 0h1m-66 1h1m1 0h2m2 0h1m4 0h1m35 0h2m-53 1h2m5 0h1m1 0h1m36 0h2m7 0h1m5 0h1m-57 1h2m1 0h2m1 0h1m5 0h1m5 0h1m20 0h1m16 0h1m2 0h1m-61 1h3m1 0h1m5 0h1m36 0h2m1 0h1m-54 1h3m7 0h1m35 0h1m5 0h2m-53 1h1m1 0h1m3 0h1m0 1h2m3 0h1m37 0h3m-55 1h1m4 0h1m5 0h1m1 0h1m1 0h2m34 0h1m5 0h1m2 0h1m-63 1h3m4 0h1m2 0h1m2 0h1m-9 1h1m11 0h1m1 0h1m32 0h1m1 0h2m2 0h1m-60 1h1m1 0h1m4 0h2m13 0h1m48 0h1m-67 1h1m3 0h1m12 0h1m3 0h1m23 0h1m3 0h1m2 0h1m14 0h1m-72 1h2m3 0h1m45 0h1m2 0h2m8 0h1m9 0h1m-72 1h1m6 0h1m12 0h1m20 0h1m1 0h1m3 0h1m3 0h1m3 0h1m-55 1h1m4 0h1m1 0h1m36 0h1m5 0h1m14 0h1m-67 1h1m9 0h1m41 0h1m-55 1h2m10 0h1m35 0h1m4 0h1m-54 1h4m3 0h1m1 0h2m15 0h1m7 0h1m17 0h1m1 0h2m-57 1h1m6 0h1m2 0h1m25 0h1m15 0h1m-39 1h1m2 0h1m11 0h1m1 0h1m13 0h1m5 0h1m5 0h1m-7 1h1m-51 1h1m20 0h1m7 0h1m5 0h1m9 0h1m5 0h1m5 0h1m-61 1h2m1 0h1m1 0h2m2 0h2m9 0h1m9 0h1m1 0h1m10 0h1m6 0h1m-49 1h1m2 0h2m8 0h1m2 0h2m7 0h2m5 0h1m5 0h1m11 0h1m2 0h1m11 0h1m-62 1h1m29 0h2m13 0h1m7 0h1m-56 1h1m3 0h1m2 0h1m4 0h1m1 0h1m4 0h1m1 0h1m7 0h1m1 0h1m1 0h1m7 0h1m6 0h1m-49 1h1m6 0h1m1 0h2m1 0h2m3 0h2m2 0h1m2 0h2m1 0h1m4 0h1m1 0h1m2 0h2m6 0h1m1 0h1m3 0h1m-53 1h1m1 0h1m4 0h1m5 0h1m2 0h1m14 0h1m4 0h1m1 0h2m2 0h1m3 0h1m1 0h2m3 0h1m-52 1h1m2 0h1m22 0h1m2 0h1m2 0h1m6 0h1m1 0h1m2 0h1m-43 1h2m3 0h4m2 0h1m2 0h3m2 0h1m1 0h1m4 0h1m5 0h1m7 0h1m7 0h1m7 0h1m-61 1h1m5 0h2m2 0h1m6 0h1m2 0h2m2 0h1m12 0h1m1 0h2m1 0h1m-45 1h1m5 0h1m1 0h2m1 0h3m3 0h1m1 0h1m1 0h1m4 0h1m4 0h1m3 0h1m10 0h1m2 0h2m4 0h1m-53 1h1m1 0h1m3 0h1m1 0h1m7 0h1m1 0h1m1 0h1m3 0h1m2 0h1m1 0h2m1 0h1m3 0h1m2 0h1m4 0h1m3 0h1m2 0h1m-47 1h2m1 0h2m6 0h1m1 0h1m1 0h2m3 0h1m1 0h1m2 0h1m2 0h1m3 0h1m1 0h1m4 0h1m4 0h1" stroke="#f2555b"/><path d="M469 230.5h1m-26 1h1m13 0h1m24 0h1m-31 1h1m2 0h1m3 0h1m2 0h1m2 0h1m1 0h1m-20 1h1m2 0h1m2 0h1m2 0h1m2 0h1m6 0h1m-24 1h1m8 0h1m1 0h1m3 0h2m1 0h1m2 0h5m1 0h1m1 0h2m1 0h1m3 0h1m-46 1h1m23 0h1m4 0h1m2 0h1m1 0h1m2 0h1m6 0h1m1 0h1m-39 1h1m8 0h2m1 0h1m1 0h3m1 0h1m1 0h1m1 0h1m3 0h1m2 0h3m1 0h1m1 0h1m7 0h1m-44 1h1m2 0h1m2 0h1m2 0h1m1 0h1m2 0h3m1 0h1m1 0h1m1 0h1m4 0h3m1 0h1m5 0h2m-38 1h2m1 0h3m1 0h1m1 0h1m1 0h5m1 0h5m1 0h1m1 0h1m2 0h3m4 0h1m4 0h1m-54 1h1m2 0h1m8 0h3m1 0h1m3 0h4m1 0h2m2 0h4m2 0h3m1 0h4m1 0h2m5 0h1m-36 1h4m1 0h1m1 0h6m1 0h3m1 0h7m8 0h1m-61 1h1m1 0h1m13 0h1m6 0h12m2 0h1m1 0h3m3 0h3m1 0h2m2 0h2m1 0h1m2 0h1m2 0h1m5 0h1m-62 1h2m8 0h1m3 0h1m1 0h3m1 0h1m1 0h6m1 0h6m2 0h2m1 0h1m1 0h3m14 0h1m-57 1h1m4 0h1m1 0h3m1 0h2m2 0h13m2 0h4m1 0h1m1 0h1m1 0h1m3 0h1m-38 1h1m1 0h1m2 0h4m1 0h20m1 0h1m1 0h2m9 0h1m-50 1h1m4 0h1m1 0h3m2 0h4m1 0h2m1 0h3m1 0h1m1 0h7m1 0h1m1 0h2m1 0h1m1 0h1m6 0h1m-51 1h1m1 0h1m2 0h1m1 0h4m1 0h15m1 0h1m1 0h2m1 0h3m1 0h1m2 0h1m-41 1h1m4 0h2m2 0h12m1 0h4m1 0h13m1 0h2m3 0h1m2 0h1m-46 1h29m1 0h1m1 0h3m4 0h3m5 0h1m-62 1h1m11 0h5m1 0h1m1 0h2m1 0h13m1 0h12m3 0h3m4 0h1m-71 1h2m1 0h1m6 0h1m2 0h1m2 0h1m2 0h1m2 0h1m1 0h2m1 0h17m1 0h9m1 0h3m1 0h1m3 0h2m-50 1h1m1 0h2m1 0h2m2 0h6m1 0h13m1 0h3m1 0h2m2 0h1m2 0h1m-49 1h1m6 0h1m1 0h1m1 0h3m1 0h1m1 0h5m2 0h19m1 0h4m8 0h1m9 0h1m-58 1h1m2 0h1m1 0h4m1 0h15m1 0h10m2 0h1m1 0h1m2 0h1m-52 1h1m4 0h1m2 0h4m1 0h19m1 0h11m1 0h2m1 0h3m-59 1h1m8 0h2m5 0h10m1 0h8m2 0h15m4 0h1m2 0h1m3 0h1m-60 1h1m7 0h1m2 0h1m1 0h12m1 0h13m1 0h9m3 0h1m2 0h1m4 0h1m7 0h1m-61 1h1m3 0h1m2 0h2m2 0h23m1 0h5m1 0h1m3 0h2m-58 1h1m4 0h2m3 0h2m2 0h3m1 0h2m1 0h1m1 0h29m1 0h2m2 0h1m1 0h2m1 0h1m-58 1h1m2 0h1m5 0h5m1 0h2m1 0h31m1 0h2m-49 1h1m2 0h2m1 0h5m1 0h31m1 0h1m2 0h3m16 0h1m-74 1h1m4 0h1m3 0h1m2 0h1m1 0h1m1 0h38m1 0h2m-58 1h1m5 0h1m5 0h1m1 0h2m1 0h35m4 0h1m1 0h1m-59 1h1m6 0h1m3 0h3m1 0h32m2 0h7m1 0h2m-56 1h1m7 0h1m1 0h5m2 0h4m1 0h20m1 0h10m-46 1h3m1 0h1m1 0h36m2 0h1m2 0h2m5 0h1m2 0h1m-71 1h1m3 0h1m3 0h1m1 0h5m1 0h2m1 0h1m1 0h30m1 0h2m2 0h1m3 0h1m2 0h1m-51 1h1m1 0h43m1 0h1m6 0h1m-62 1h1m1 0h4m4 0h3m1 0h6m1 0h27m1 0h2m4 0h1m3 0h1m-63 1h2m2 0h1m1 0h1m1 0h3m1 0h1m3 0h1m2 0h34m1 0h4m3 0h1m-59 1h4m1 0h2m1 0h2m1 0h40m2 0h1m3 0h1m-61 1h1m3 0h1m1 0h2m2 0h7m1 0h1m1 0h32m1 0h1m2 0h2m3 0h1m-57 1h1m2 0h4m1 0h8m1 0h31m2 0h3m-60 1h1m1 0h1m2 0h1m5 0h3m1 0h8m1 0h3m1 0h23m1 0h3m1 0h1m-52 1h1m3 0h44m1 0h2m2 0h1m-53 1h3m1 0h2m1 0h1m1 0h10m1 0h20m1 0h1m1 0h3m1 0h1m3 0h1m4 0h1m-60 1h1m1 0h1m3 0h2m1 0h1m1 0h2m1 0h33m1 0h5m4 0h1m-58 1h1m4 0h3m1 0h3m1 0h40m-54 1h1m5 0h1m1 0h5m2 0h34m1 0h3m2 0h1m-57 1h2m5 0h1m2 0h1m2 0h15m1 0h7m1 0h17m1 0h1m2 0h1m2 0h1m1 0h1m-64 1h1m1 0h2m1 0h1m3 0h1m2 0h25m1 0h10m1 0h4m1 0h1m-49 1h1m1 0h1m1 0h5m1 0h2m1 0h11m1 0h1m1 0h13m1 0h4m2 0h1m1 0h2m-56 1h2m1 0h1m1 0h8m1 0h1m1 0h35m9 0h1m-61 1h1m1 0h1m3 0h1m2 0h4m1 0h7m2 0h7m1 0h5m1 0h8m2 0h1m2 0h1m4 0h2m-55 1h1m2 0h2m3 0h8m1 0h9m1 0h1m1 0h10m1 0h6m1 0h4m1 0h1m18 0h1m-68 1h1m2 0h1m2 0h1m1 0h2m2 0h2m1 0h3m3 0h5m1 0h5m1 0h8m4 0h1m2 0h1m-55 1h4m2 0h15m1 0h2m1 0h9m2 0h1m1 0h4m1 0h2m1 0h3m1 0h1m-51 1h2m3 0h1m1 0h2m1 0h4m1 0h1m1 0h1m2 0h1m1 0h1m1 0h6m2 0h1m4 0h6m1 0h5m2 0h1m2 0h1m-54 1h1m1 0h1m1 0h1m1 0h1m2 0h1m5 0h3m2 0h2m2 0h1m2 0h1m2 0h3m1 0h1m2 0h1m2 0h1m2 0h1m1 0h1m3 0h1m1 0h1m-53 1h1m1 0h1m2 0h3m1 0h5m1 0h1m3 0h6m1 0h1m1 0h2m1 0h1m1 0h4m5 0h1m1 0h1m8 0h1m-50 1h2m2 0h1m1 0h2m3 0h3m1 0h7m1 0h1m2 0h2m13 0h2m2 0h1m-52 1h1m8 0h1m10 0h1m3 0h1m2 0h1m1 0h1m2 0h1m1 0h5m2 0h1m1 0h1m1 0h1m4 0h1m1 0h1m-51 1h1m1 0h1m1 0h1m4 0h1m2 0h1m1 0h4m1 0h2m3 0h1m1 0h4m1 0h4m1 0h1m2 0h1m2 0h1m1 0h1m1 0h2m-48 1h1m12 0h1m3 0h1m1 0h1m1 0h4m1 0h1m1 0h1m3 0h2m1 0h3m1 0h1m1 0h2m1 0h1m1 0h1m4 0h1m3 0h1m-53 1h1m1 0h1m1 0h1m3 0h4m2 0h1m1 0h1m3 0h3m1 0h2m1 0h1m2 0h1m1 0h3m2 0h1m2 0h1m5 0h1m2 0h1m5 0h1m-54 1h2m7 0h2m1 0h1m1 0h1m1 0h1m2 0h3m1 0h1m2 0h1m1 0h1m2 0h3m1 0h1m1 0h2m4 0h3m1 0h1" stroke="#ee1c24"/></g>
<path d="M464.5 182.5V296.2M407.6 250.5H546.2" stroke="#7a7a7a" stroke-width="1" fill="none"/>
<rect x="407.6" y="182.5" width="138.6" height="113.7" fill="none" stroke="#6266cc" stroke-width="1.6"/>
<path d="M424.37 296.2v3.5M407.6 280.28h-3.5M435.05 296.2v2.6M407.6 271.96h-2M441.3 296.2v2.6M407.6 267.1h-2M445.73 296.2v2.6M407.6 263.65h-2M449.17 296.2v2.6M407.6 260.97h-2M451.98 296.2v2.6M407.6 258.78h-2M454.36 296.2v2.6M407.6 256.93h-2M456.41 296.2v2.6M407.6 255.33h-2M458.23 296.2v2.6M407.6 253.92h-2M459.85 296.2v3.5M407.6 252.65h-3.5M470.53 296.2v2.6M407.6 244.34h-2M476.78 296.2v2.6M407.6 239.47h-2M481.21 296.2v2.6M407.6 236.02h-2M484.65 296.2v2.6M407.6 233.34h-2M487.46 296.2v2.6M407.6 231.15h-2M489.84 296.2v2.6M407.6 229.3h-2M491.9 296.2v2.6M407.6 227.7h-2M493.71 296.2v2.6M407.6 226.29h-2M495.33 296.2v3.5M407.6 225.02h-3.5M506.01 296.2v2.6M407.6 216.71h-2M512.26 296.2v2.6M407.6 211.84h-2M516.7 296.2v2.6M407.6 208.39h-2M520.13 296.2v2.6M407.6 205.71h-2M522.94 296.2v2.6M407.6 203.52h-2M525.32 296.2v2.6M407.6 201.67h-2M527.38 296.2v2.6M407.6 200.07h-2M529.19 296.2v2.6M407.6 198.66h-2M530.82 296.2v3.5M407.6 197.39h-3.5M541.5 296.2v2.6M407.6 189.08h-2M407.6 184.21h-2M411.76 296.2v2.6M407.6 292.79h-2M415.22 296.2v2.6M407.6 289.95h-2M418 296.2v2.6M407.6 287.67h-2M420.77 296.2v2.6M407.6 285.4h-2" stroke="#4048c0" stroke-width="1" fill="none"/>
<g fill="#4048c0" font-family="Liberation Sans, sans-serif" font-weight="bold" font-size="5.6"><text x="408.1" y="304.2" text-anchor="middle">0</text><text x="424.37" y="304.2" text-anchor="middle">2</text><text x="421.37" y="311.2" text-anchor="middle">10</text><text x="459.85" y="304.2" text-anchor="middle">3</text><text x="456.85" y="311.2" text-anchor="middle">10</text><text x="495.33" y="304.2" text-anchor="middle">4</text><text x="492.33" y="311.2" text-anchor="middle">10</text><text x="530.82" y="304.2" text-anchor="middle">5</text><text x="527.82" y="311.2" text-anchor="middle">10</text><text transform="translate(401.4,280.78) rotate(-90)" text-anchor="middle">10</text><text transform="translate(393.5,277.98) rotate(-90)" text-anchor="middle">2</text><text transform="translate(401.4,253.15) rotate(-90)" text-anchor="middle">10</text><text transform="translate(393.5,250.35) rotate(-90)" text-anchor="middle">3</text><text transform="translate(401.4,225.52) rotate(-90)" text-anchor="middle">10</text><text transform="translate(393.5,222.72) rotate(-90)" text-anchor="middle">4</text><text transform="translate(401.4,197.89) rotate(-90)" text-anchor="middle">10</text><text transform="translate(393.5,195.09) rotate(-90)" text-anchor="middle">5</text></g>
<text x="450.29" y="318.8" fill="#e0202c" stroke="#e0202c" stroke-width="0.3" font-family="Liberation Mono, monospace" font-weight="bold" font-size="6.5">Annexin V-FITC</text>
<text transform="translate(386.6,233.44) rotate(-90)" text-anchor="middle" fill="#e0202c" stroke="#e0202c" stroke-width="0.2" font-family="Liberation Mono, monospace" font-weight="bold" font-style="italic" font-size="6.8">PI</text>
<g fill="#000" stroke="#000" stroke-width="0.15" font-family="Liberation Sans, sans-serif" font-weight="bold" font-size="5.1"><text x="414.7" y="214.8">11.06%</text><text x="521" y="214.5">7.79%</text><text x="517" y="277.5">3.51%</text></g></svg></body></html>
